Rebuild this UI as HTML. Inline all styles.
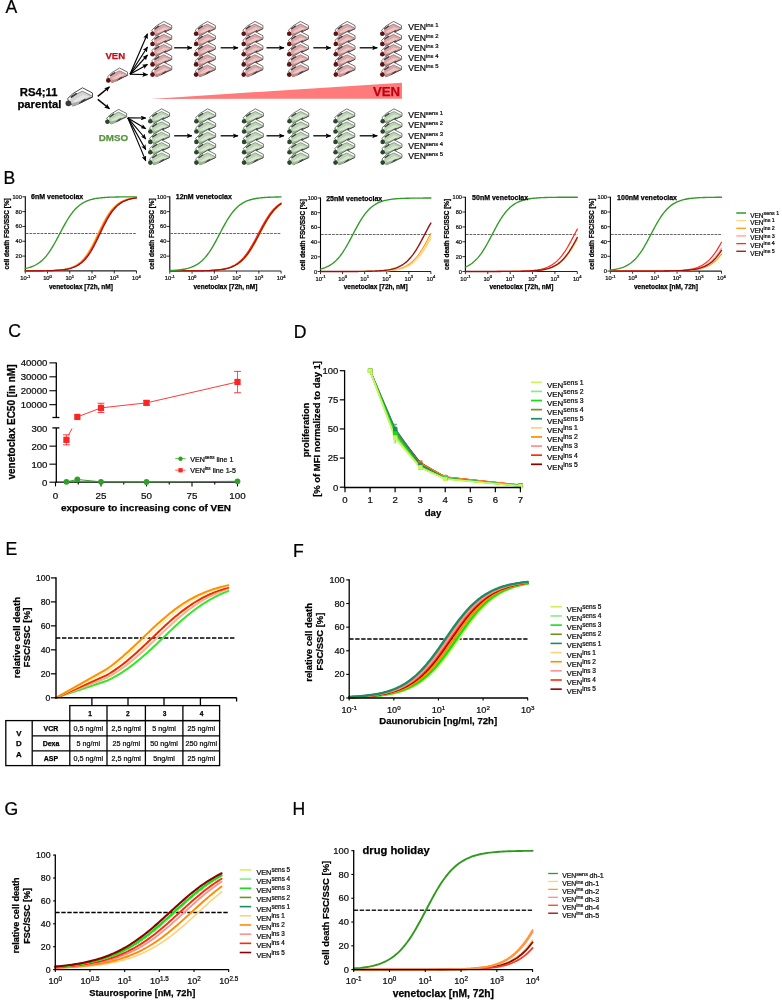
<!DOCTYPE html>
<html><head><meta charset="utf-8"><title>figure</title>
<style>
html,body{margin:0;padding:0;background:#fff;}
body{width:782px;height:1000px;overflow:hidden;}
svg{display:block;font-family:"Liberation Sans", sans-serif;will-change:transform;}
text{stroke:#000;stroke-width:0.22px;}
text[font-weight="bold"]{stroke-width:0.25px;}
</style></head><body>
<svg width="782" height="1000" viewBox="0 0 782 1000">
<rect width="782" height="1000" fill="#fff"/>
<defs>
<g id="fr">
<polygon points="-0.8,-3.6 3.8,-7.9 11.3,-12.4 19.2,-8.3 19.3,-5.1 13,-2.6 8,0.5 3.5,2.2" fill="#fff" stroke="#4a3e3e" stroke-width="0.75" stroke-linejoin="round"/>
<polygon points="1.2,-3.2 3.2,-5.9 11.3,-9.7 18.6,-6.0 18.7,-5.3 13,-2.6 8,0.5 3.5,2.2" fill="#dca6a6"/>
<polygon points="4,-2.2 11.5,-6.6 16.5,-5.6 10,-2.2 5,-0.6" fill="#ecc6c6"/>
<polygon points="2.2,0.3 8.5,-1.5 13,-3.6 18.7,-5.3 13,-2.6 8,0.5 3.5,2.2" fill="#c08888"/>
<polyline points="3.2,-5.9 11.3,-9.7 18.6,-6.0" fill="none" stroke="#4a3e3e" stroke-width="0.45"/>
<line x1="8.5" y1="0.2" x2="19.2" y2="-5.1" stroke="#4a3e3e" stroke-width="0.9"/>
<line x1="2.4" y1="-5.0" x2="6.2" y2="-7.6" stroke="#4a3e3e" stroke-width="1.4" stroke-linecap="round"/>
<line x1="10.6" y1="-1.2" x2="13.2" y2="-2.9" stroke="#4a3e3e" stroke-width="1.3" stroke-linecap="round"/>
<circle cx="0" cy="0" r="2.3" fill="#5a1212"/>
</g>
<g id="fg">
<polygon points="-0.8,-3.6 3.8,-7.9 11.3,-12.4 19.2,-8.3 19.3,-5.1 13,-2.6 8,0.5 3.5,2.2" fill="#fff" stroke="#3e4a3e" stroke-width="0.75" stroke-linejoin="round"/>
<polygon points="1.2,-3.2 3.2,-5.9 11.3,-9.7 18.6,-6.0 18.7,-5.3 13,-2.6 8,0.5 3.5,2.2" fill="#bcd4b4"/>
<polygon points="4,-2.2 11.5,-6.6 16.5,-5.6 10,-2.2 5,-0.6" fill="#d6e6d0"/>
<polygon points="2.2,0.3 8.5,-1.5 13,-3.6 18.7,-5.3 13,-2.6 8,0.5 3.5,2.2" fill="#98b390"/>
<polyline points="3.2,-5.9 11.3,-9.7 18.6,-6.0" fill="none" stroke="#3e4a3e" stroke-width="0.45"/>
<line x1="8.5" y1="0.2" x2="19.2" y2="-5.1" stroke="#3e4a3e" stroke-width="0.9"/>
<line x1="2.4" y1="-5.0" x2="6.2" y2="-7.6" stroke="#3e4a3e" stroke-width="1.4" stroke-linecap="round"/>
<line x1="10.6" y1="-1.2" x2="13.2" y2="-2.9" stroke="#3e4a3e" stroke-width="1.3" stroke-linecap="round"/>
<circle cx="0" cy="0" r="2.3" fill="#2b472b"/>
</g>
<g id="fw">
<polygon points="-0.8,-3.6 3.8,-7.9 11.3,-12.4 19.2,-8.3 19.3,-5.1 13,-2.6 8,0.5 3.5,2.2" fill="#fff" stroke="#3a3a3a" stroke-width="0.75" stroke-linejoin="round"/>
<polygon points="1.2,-3.2 3.2,-5.9 11.3,-9.7 18.6,-6.0 18.7,-5.3 13,-2.6 8,0.5 3.5,2.2" fill="#d2d2d2"/>
<polygon points="4,-2.2 11.5,-6.6 16.5,-5.6 10,-2.2 5,-0.6" fill="#e6e6e6"/>
<polygon points="2.2,0.3 8.5,-1.5 13,-3.6 18.7,-5.3 13,-2.6 8,0.5 3.5,2.2" fill="#aaaaaa"/>
<polyline points="3.2,-5.9 11.3,-9.7 18.6,-6.0" fill="none" stroke="#3a3a3a" stroke-width="0.45"/>
<line x1="8.5" y1="0.2" x2="19.2" y2="-5.1" stroke="#3a3a3a" stroke-width="0.9"/>
<line x1="2.4" y1="-5.0" x2="6.2" y2="-7.6" stroke="#3a3a3a" stroke-width="1.4" stroke-linecap="round"/>
<line x1="10.6" y1="-1.2" x2="13.2" y2="-2.9" stroke="#3a3a3a" stroke-width="1.3" stroke-linecap="round"/>
<circle cx="0" cy="0" r="2.3" fill="#3a3a3a"/>
</g>
<marker id="ah" viewBox="0 0 10 10" refX="9" refY="5" markerWidth="5.6" markerHeight="4.8" orient="auto" markerUnits="userSpaceOnUse" preserveAspectRatio="none"><path d="M0,0 L10,5 L0,10 L2,5 z" fill="#000"/></marker>
</defs>
<text x="5.6" y="12.5" font-size="17.6" text-anchor="start" fill="#000">A</text>
<text x="3.6" y="183.8" font-size="17.6" text-anchor="start" fill="#000">B</text>
<text x="8.3" y="337.3" font-size="17.6" text-anchor="start" fill="#000">C</text>
<text x="293.8" y="337.5" font-size="17.6" text-anchor="start" fill="#000">D</text>
<text x="5.5" y="554.6" font-size="17.6" text-anchor="start" fill="#000">E</text>
<text x="293" y="556.9" font-size="17.6" text-anchor="start" fill="#000">F</text>
<text x="4.5" y="814.6" font-size="17.6" text-anchor="start" fill="#000">G</text>
<text x="292.4" y="814.5" font-size="17.6" text-anchor="start" fill="#000">H</text>
<use href="#fw" transform="translate(68.4 103.3) scale(1.25)"/>
<text x="38.7" y="95.5" font-size="11.3" font-weight="bold" text-anchor="middle" fill="#000">RS4;11</text>
<text x="39.4" y="108.3" font-size="11.3" font-weight="bold" text-anchor="middle" fill="#000">parental</text>
<line x1="97.8" y1="96.4" x2="109.5" y2="86.8" stroke="#000" stroke-width="1.45" marker-end="url(#ah)"/>
<line x1="97.8" y1="99.4" x2="109.5" y2="108.8" stroke="#000" stroke-width="1.45" marker-end="url(#ah)"/>
<text x="115.3" y="59.3" font-size="9.6" font-weight="bold" text-anchor="middle" fill="#c4101c" style="stroke:#c4101c">VEN</text>
<use href="#fr" transform="translate(108.3 80.4)"/>
<text x="113.5" y="141" font-size="9.8" font-weight="bold" text-anchor="middle" fill="#5a9440" style="stroke:#5a9440">DMSO</text>
<use href="#fg" transform="translate(107.4 121.8)"/>
<line x1="130" y1="74.3" x2="147.5" y2="33.8" stroke="#000" stroke-width="1.15" marker-end="url(#ah)"/>
<line x1="130" y1="74.3" x2="147.5" y2="47" stroke="#000" stroke-width="1.15" marker-end="url(#ah)"/>
<line x1="130" y1="74.3" x2="147.5" y2="55" stroke="#000" stroke-width="1.15" marker-end="url(#ah)"/>
<line x1="130" y1="74.3" x2="147.5" y2="64.4" stroke="#000" stroke-width="1.15" marker-end="url(#ah)"/>
<line x1="130" y1="74.3" x2="147.5" y2="74.6" stroke="#000" stroke-width="1.15" marker-end="url(#ah)"/>
<line x1="127.8" y1="117.9" x2="145.8" y2="118" stroke="#000" stroke-width="1.15" marker-end="url(#ah)"/>
<line x1="127.8" y1="117.9" x2="145.8" y2="128.8" stroke="#000" stroke-width="1.15" marker-end="url(#ah)"/>
<line x1="127.8" y1="117.9" x2="145.8" y2="139" stroke="#000" stroke-width="1.15" marker-end="url(#ah)"/>
<line x1="127.8" y1="117.9" x2="145.8" y2="149.8" stroke="#000" stroke-width="1.15" marker-end="url(#ah)"/>
<line x1="127.8" y1="117.9" x2="145.8" y2="160.9" stroke="#000" stroke-width="1.15" marker-end="url(#ah)"/>
<use href="#fr" transform="translate(152.5 33.8)"/>
<use href="#fr" transform="translate(152.5 44)"/>
<use href="#fr" transform="translate(152.5 54.2)"/>
<use href="#fr" transform="translate(152.5 64.4)"/>
<use href="#fr" transform="translate(152.5 74.6)"/>
<use href="#fr" transform="translate(196.1 33.8)"/>
<use href="#fr" transform="translate(196.1 44)"/>
<use href="#fr" transform="translate(196.1 54.2)"/>
<use href="#fr" transform="translate(196.1 64.4)"/>
<use href="#fr" transform="translate(196.1 74.6)"/>
<use href="#fr" transform="translate(243.7 33.8)"/>
<use href="#fr" transform="translate(243.7 44)"/>
<use href="#fr" transform="translate(243.7 54.2)"/>
<use href="#fr" transform="translate(243.7 64.4)"/>
<use href="#fr" transform="translate(243.7 74.6)"/>
<use href="#fr" transform="translate(289.2 33.8)"/>
<use href="#fr" transform="translate(289.2 44)"/>
<use href="#fr" transform="translate(289.2 54.2)"/>
<use href="#fr" transform="translate(289.2 64.4)"/>
<use href="#fr" transform="translate(289.2 74.6)"/>
<use href="#fr" transform="translate(335.8 33.8)"/>
<use href="#fr" transform="translate(335.8 44)"/>
<use href="#fr" transform="translate(335.8 54.2)"/>
<use href="#fr" transform="translate(335.8 64.4)"/>
<use href="#fr" transform="translate(335.8 74.6)"/>
<use href="#fr" transform="translate(382.3 33.8)"/>
<use href="#fr" transform="translate(382.3 44)"/>
<use href="#fr" transform="translate(382.3 54.2)"/>
<use href="#fr" transform="translate(382.3 64.4)"/>
<use href="#fr" transform="translate(382.3 74.6)"/>
<use href="#fg" transform="translate(150.3 121.2)"/>
<use href="#fg" transform="translate(150.3 131.55)"/>
<use href="#fg" transform="translate(150.3 141.9)"/>
<use href="#fg" transform="translate(150.3 152.25)"/>
<use href="#fg" transform="translate(150.3 162.6)"/>
<use href="#fg" transform="translate(196.4 121.2)"/>
<use href="#fg" transform="translate(196.4 131.55)"/>
<use href="#fg" transform="translate(196.4 141.9)"/>
<use href="#fg" transform="translate(196.4 152.25)"/>
<use href="#fg" transform="translate(196.4 162.6)"/>
<use href="#fg" transform="translate(244.1 121.2)"/>
<use href="#fg" transform="translate(244.1 131.55)"/>
<use href="#fg" transform="translate(244.1 141.9)"/>
<use href="#fg" transform="translate(244.1 152.25)"/>
<use href="#fg" transform="translate(244.1 162.6)"/>
<use href="#fg" transform="translate(289.5 121.2)"/>
<use href="#fg" transform="translate(289.5 131.55)"/>
<use href="#fg" transform="translate(289.5 141.9)"/>
<use href="#fg" transform="translate(289.5 152.25)"/>
<use href="#fg" transform="translate(289.5 162.6)"/>
<use href="#fg" transform="translate(335.5 121.2)"/>
<use href="#fg" transform="translate(335.5 131.55)"/>
<use href="#fg" transform="translate(335.5 141.9)"/>
<use href="#fg" transform="translate(335.5 152.25)"/>
<use href="#fg" transform="translate(335.5 162.6)"/>
<use href="#fg" transform="translate(382.7 121.2)"/>
<use href="#fg" transform="translate(382.7 131.55)"/>
<use href="#fg" transform="translate(382.7 141.9)"/>
<use href="#fg" transform="translate(382.7 152.25)"/>
<use href="#fg" transform="translate(382.7 162.6)"/>
<line x1="174.2" y1="47.8" x2="191.9" y2="47.8" stroke="#000" stroke-width="1.3" marker-end="url(#ah)"/>
<line x1="174.2" y1="135.8" x2="191.9" y2="135.8" stroke="#000" stroke-width="1.3" marker-end="url(#ah)"/>
<line x1="220.7" y1="47.8" x2="238" y2="47.8" stroke="#000" stroke-width="1.3" marker-end="url(#ah)"/>
<line x1="220.7" y1="135.8" x2="238" y2="135.8" stroke="#000" stroke-width="1.3" marker-end="url(#ah)"/>
<line x1="266.5" y1="47.8" x2="284" y2="47.8" stroke="#000" stroke-width="1.3" marker-end="url(#ah)"/>
<line x1="266.5" y1="135.8" x2="284" y2="135.8" stroke="#000" stroke-width="1.3" marker-end="url(#ah)"/>
<line x1="313.3" y1="47.8" x2="330.7" y2="47.8" stroke="#000" stroke-width="1.3" marker-end="url(#ah)"/>
<line x1="313.3" y1="135.8" x2="330.7" y2="135.8" stroke="#000" stroke-width="1.3" marker-end="url(#ah)"/>
<line x1="359.7" y1="47.8" x2="377.3" y2="47.8" stroke="#000" stroke-width="1.3" marker-end="url(#ah)"/>
<line x1="359.7" y1="135.8" x2="377.3" y2="135.8" stroke="#000" stroke-width="1.3" marker-end="url(#ah)"/>
<polygon points="151,98.9 402,82.7 402,98.7" fill="#ff7b7b"/>
<text x="373" y="95.9" font-size="13.2" font-weight="bold" text-anchor="start" fill="#c00012" style="stroke:#c00012">VEN</text>
<text x="408.3" y="29.5" font-size="8.6" fill="#111">VEN<tspan font-size="5.9" dy="-2.9">ins 1</tspan></text>
<text x="408.3" y="40.7" font-size="8.6" fill="#111">VEN<tspan font-size="5.9" dy="-2.9">ins 2</tspan></text>
<text x="408.3" y="51" font-size="8.6" fill="#111">VEN<tspan font-size="5.9" dy="-2.9">ins 3</tspan></text>
<text x="408.3" y="61.1" font-size="8.6" fill="#111">VEN<tspan font-size="5.9" dy="-2.9">ins 4</tspan></text>
<text x="408.3" y="71.1" font-size="8.6" fill="#111">VEN<tspan font-size="5.9" dy="-2.9">ins 5</tspan></text>
<text x="408.3" y="117.5" font-size="8.5" fill="#111">VEN<tspan font-size="5.9" dy="-2.9">sens 1</tspan></text>
<text x="408.3" y="127.8" font-size="8.5" fill="#111">VEN<tspan font-size="5.9" dy="-2.9">sens 2</tspan></text>
<text x="408.3" y="138.5" font-size="8.5" fill="#111">VEN<tspan font-size="5.9" dy="-2.9">sens 3</tspan></text>
<text x="408.3" y="148.6" font-size="8.5" fill="#111">VEN<tspan font-size="5.9" dy="-2.9">sens 4</tspan></text>
<text x="408.3" y="159.3" font-size="8.5" fill="#111">VEN<tspan font-size="5.9" dy="-2.9">sens 5</tspan></text>
<line x1="25.3" y1="196.3" x2="25.3" y2="271.4" stroke="#000" stroke-width="1.1"/>
<line x1="24.8" y1="270.9" x2="136.5" y2="270.9" stroke="#222" stroke-width="1.2"/>
<line x1="22.3" y1="256.08" x2="25.3" y2="256.08" stroke="#000" stroke-width="0.8"/>
<text x="21.8" y="258.08" font-size="5.6" text-anchor="end" fill="#222">20</text>
<line x1="22.3" y1="241.26" x2="25.3" y2="241.26" stroke="#000" stroke-width="0.8"/>
<text x="21.8" y="243.26" font-size="5.6" text-anchor="end" fill="#222">40</text>
<line x1="22.3" y1="226.44" x2="25.3" y2="226.44" stroke="#000" stroke-width="0.8"/>
<text x="21.8" y="228.44" font-size="5.6" text-anchor="end" fill="#222">60</text>
<line x1="22.3" y1="211.62" x2="25.3" y2="211.62" stroke="#000" stroke-width="0.8"/>
<text x="21.8" y="213.62" font-size="5.6" text-anchor="end" fill="#222">80</text>
<line x1="22.3" y1="196.8" x2="25.3" y2="196.8" stroke="#000" stroke-width="0.8"/>
<text x="21.8" y="198.8" font-size="5.6" text-anchor="end" fill="#222">100</text>
<line x1="25.3" y1="270.9" x2="25.3" y2="273.5" stroke="#000" stroke-width="0.8"/>
<text x="25.3" y="280" font-size="5.8" fill="#222" text-anchor="middle">10<tspan font-size="4.2" dy="-2.3">-1</tspan></text>
<line x1="47.54" y1="270.9" x2="47.54" y2="273.5" stroke="#000" stroke-width="0.8"/>
<text x="47.54" y="280" font-size="5.8" fill="#222" text-anchor="middle">10<tspan font-size="4.2" dy="-2.3">0</tspan></text>
<line x1="69.78" y1="270.9" x2="69.78" y2="273.5" stroke="#000" stroke-width="0.8"/>
<text x="69.78" y="280" font-size="5.8" fill="#222" text-anchor="middle">10<tspan font-size="4.2" dy="-2.3">1</tspan></text>
<line x1="92.02" y1="270.9" x2="92.02" y2="273.5" stroke="#000" stroke-width="0.8"/>
<text x="92.02" y="280" font-size="5.8" fill="#222" text-anchor="middle">10<tspan font-size="4.2" dy="-2.3">2</tspan></text>
<line x1="114.26" y1="270.9" x2="114.26" y2="273.5" stroke="#000" stroke-width="0.8"/>
<text x="114.26" y="280" font-size="5.8" fill="#222" text-anchor="middle">10<tspan font-size="4.2" dy="-2.3">3</tspan></text>
<line x1="136.5" y1="270.9" x2="136.5" y2="273.5" stroke="#000" stroke-width="0.8"/>
<text x="136.5" y="280" font-size="5.8" fill="#222" text-anchor="middle">10<tspan font-size="4.2" dy="-2.3">4</tspan></text>
<text x="80.9" y="288.8" font-size="6.5" font-weight="bold" text-anchor="middle" fill="#000">venetoclax [72h, nM]</text>
<text x="9.2" y="233.85" font-size="6.45" font-weight="bold" text-anchor="middle" fill="#000" transform="rotate(-90 9.2 233.85)">cell death FSC/SSC [%]</text>
<line x1="25.8" y1="233.5" x2="136.5" y2="233.5" stroke="#666" stroke-width="1.2" stroke-dasharray="2.7,1.0"/>
<polyline points="25.3,270.88 26.69,270.88 28.08,270.87 29.47,270.87 30.86,270.86 32.25,270.86 33.64,270.85 35.03,270.84 36.42,270.83 37.81,270.82 39.2,270.8 40.59,270.79 41.98,270.77 43.37,270.75 44.76,270.72 46.15,270.69 47.54,270.65 48.93,270.61 50.32,270.56 51.71,270.5 53.1,270.44 54.49,270.36 55.88,270.26 57.27,270.16 58.66,270.03 60.05,269.88 61.44,269.71 62.83,269.51 64.22,269.28 65.61,269.01 67,268.69 68.39,268.33 69.78,267.9 71.17,267.41 72.56,266.85 73.95,266.19 75.34,265.45 76.73,264.59 78.12,263.62 79.51,262.51 80.9,261.26 82.29,259.85 83.68,258.28 85.07,256.53 86.46,254.61 87.85,252.51 89.24,250.23 90.63,247.79 92.02,245.2 93.41,242.49 94.8,239.67 96.19,236.78 97.58,233.85 98.97,230.92 100.36,228.03 101.75,225.21 103.14,222.5 104.53,219.91 105.92,217.47 107.31,215.19 108.7,213.09 110.09,211.17 111.48,209.42 112.87,207.85 114.26,206.44 115.65,205.19 117.04,204.08 118.43,203.11 119.82,202.25 121.21,201.51 122.6,200.85 123.99,200.29 125.38,199.8 126.77,199.37 128.16,199.01 129.55,198.69 130.94,198.42 132.33,198.19 133.72,197.99 135.11,197.82 136.5,197.67" fill="none" stroke="#ffcf6a" stroke-width="1" stroke-linejoin="round" stroke-linecap="round"/>
<polyline points="25.3,270.88 26.69,270.88 28.08,270.87 29.47,270.87 30.86,270.87 32.25,270.86 33.64,270.85 35.03,270.84 36.42,270.84 37.81,270.82 39.2,270.81 40.59,270.8 41.98,270.78 43.37,270.76 44.76,270.73 46.15,270.7 47.54,270.67 48.93,270.63 50.32,270.59 51.71,270.53 53.1,270.47 54.49,270.4 55.88,270.31 57.27,270.21 58.66,270.09 60.05,269.96 61.44,269.8 62.83,269.61 64.22,269.39 65.61,269.14 67,268.85 68.39,268.51 69.78,268.11 71.17,267.66 72.56,267.13 73.95,266.52 75.34,265.82 76.73,265.02 78.12,264.1 79.51,263.06 80.9,261.88 82.29,260.54 83.68,259.05 85.07,257.39 86.46,255.55 87.85,253.54 89.24,251.35 90.63,248.98 92.02,246.46 93.41,243.8 94.8,241.03 96.19,238.17 97.58,235.26 98.97,232.33 100.36,229.41 101.75,226.56 103.14,223.79 104.53,221.13 105.92,218.62 107.31,216.26 108.7,214.08 110.09,212.07 111.48,210.24 112.87,208.59 114.26,207.1 115.65,205.77 117.04,204.6 118.43,203.56 119.82,202.65 121.21,201.85 122.6,201.16 123.99,200.55 125.38,200.02 126.77,199.57 128.16,199.18 129.55,198.84 130.94,198.55 132.33,198.3 133.72,198.08 135.11,197.9 136.5,197.74" fill="none" stroke="#ff9a10" stroke-width="1.2" stroke-linejoin="round" stroke-linecap="round"/>
<polyline points="25.3,270.88 26.69,270.88 28.08,270.88 29.47,270.87 30.86,270.87 32.25,270.86 33.64,270.86 35.03,270.85 36.42,270.84 37.81,270.83 39.2,270.82 40.59,270.81 41.98,270.79 43.37,270.77 44.76,270.75 46.15,270.72 47.54,270.69 48.93,270.66 50.32,270.62 51.71,270.57 53.1,270.51 54.49,270.44 55.88,270.37 57.27,270.28 58.66,270.17 60.05,270.05 61.44,269.9 62.83,269.73 64.22,269.54 65.61,269.31 67,269.04 68.39,268.73 69.78,268.37 71.17,267.96 72.56,267.47 73.95,266.92 75.34,266.28 76.73,265.54 78.12,264.7 79.51,263.74 80.9,262.65 82.29,261.41 83.68,260.03 85.07,258.47 86.46,256.75 87.85,254.85 89.24,252.77 90.63,250.51 92.02,248.09 93.41,245.52 94.8,242.82 96.19,240.01 97.58,237.13 98.97,234.2 100.36,231.27 101.75,228.38 103.14,225.55 104.53,222.82 105.92,220.21 107.31,217.75 108.7,215.46 110.09,213.34 111.48,211.39 112.87,209.62 114.26,208.03 115.65,206.6 117.04,205.33 118.43,204.21 119.82,203.22 121.21,202.35 122.6,201.59 123.99,200.93 125.38,200.35 126.77,199.85 128.16,199.42 129.55,199.05 130.94,198.73 132.33,198.45 133.72,198.22 135.11,198.01 136.5,197.84" fill="none" stroke="#ff2a1a" stroke-width="1.2" stroke-linejoin="round" stroke-linecap="round"/>
<polyline points="25.3,270.89 26.69,270.88 28.08,270.88 29.47,270.88 30.86,270.87 32.25,270.87 33.64,270.86 35.03,270.85 36.42,270.85 37.81,270.84 39.2,270.83 40.59,270.81 41.98,270.8 43.37,270.78 44.76,270.76 46.15,270.74 47.54,270.71 48.93,270.68 50.32,270.64 51.71,270.6 53.1,270.55 54.49,270.49 55.88,270.42 57.27,270.34 58.66,270.24 60.05,270.13 61.44,270 62.83,269.84 64.22,269.67 65.61,269.46 67,269.22 68.39,268.93 69.78,268.61 71.17,268.23 72.56,267.79 73.95,267.28 75.34,266.7 76.73,266.02 78.12,265.25 79.51,264.37 80.9,263.36 82.29,262.22 83.68,260.93 85.07,259.49 86.46,257.87 87.85,256.09 89.24,254.12 90.63,251.98 92.02,249.66 93.41,247.18 94.8,244.56 96.19,241.82 97.58,238.98 98.97,236.08 100.36,233.15 101.75,230.23 103.14,227.35 104.53,224.55 105.92,221.86 107.31,219.31 108.7,216.91 110.09,214.67 111.48,212.61 112.87,210.73 114.26,209.03 115.65,207.5 117.04,206.13 118.43,204.91 119.82,203.84 121.21,202.89 122.6,202.06 123.99,201.34 125.38,200.71 126.77,200.16 128.16,199.69 129.55,199.28 130.94,198.93 132.33,198.62 133.72,198.36 135.11,198.14 136.5,197.95" fill="none" stroke="#990f0f" stroke-width="1.2" stroke-linejoin="round" stroke-linecap="round"/>
<polyline points="25.3,268.51 26.69,268.21 28.08,267.86 29.47,267.46 30.86,267.01 32.25,266.5 33.64,265.91 35.03,265.25 36.42,264.5 37.81,263.65 39.2,262.7 40.59,261.63 41.98,260.44 43.37,259.12 44.76,257.67 46.15,256.07 47.54,254.32 48.93,252.43 50.32,250.39 51.71,248.21 53.1,245.91 54.49,243.5 55.88,240.99 57.27,238.41 58.66,235.78 60.05,233.13 61.44,230.49 62.83,227.88 64.22,225.32 65.61,222.85 67,220.48 68.39,218.23 69.78,216.11 71.17,214.13 72.56,212.29 73.95,210.61 75.34,209.06 76.73,207.66 78.12,206.4 79.51,205.26 80.9,204.24 82.29,203.33 83.68,202.52 85.07,201.81 86.46,201.18 87.85,200.62 89.24,200.13 90.63,199.7 92.02,199.33 93.41,199 94.8,198.71 96.19,198.46 97.58,198.24 98.97,198.05 100.36,197.89 101.75,197.74 103.14,197.62 104.53,197.51 105.92,197.42 107.31,197.33 108.7,197.26 110.09,197.2 111.48,197.15 112.87,197.1 114.26,197.06 115.65,197.03 117.04,197 118.43,196.97 119.82,196.95 121.21,196.93 122.6,196.91 123.99,196.9 125.38,196.88 126.77,196.87 128.16,196.86 129.55,196.85 130.94,196.85 132.33,196.84 133.72,196.83 135.11,196.83 136.5,196.83" fill="none" stroke="#2f9a25" stroke-width="1.35" stroke-linejoin="round" stroke-linecap="round"/>
<text x="31.1" y="199.3" font-size="7" font-weight="bold" text-anchor="start" fill="#000">6nM venetoclax</text>
<line x1="169.8" y1="196.3" x2="169.8" y2="271.5" stroke="#000" stroke-width="1.1"/>
<line x1="169.3" y1="271" x2="281.1" y2="271" stroke="#222" stroke-width="1.2"/>
<line x1="166.8" y1="256.16" x2="169.8" y2="256.16" stroke="#000" stroke-width="0.8"/>
<text x="166.3" y="258.16" font-size="5.6" text-anchor="end" fill="#222">20</text>
<line x1="166.8" y1="241.32" x2="169.8" y2="241.32" stroke="#000" stroke-width="0.8"/>
<text x="166.3" y="243.32" font-size="5.6" text-anchor="end" fill="#222">40</text>
<line x1="166.8" y1="226.48" x2="169.8" y2="226.48" stroke="#000" stroke-width="0.8"/>
<text x="166.3" y="228.48" font-size="5.6" text-anchor="end" fill="#222">60</text>
<line x1="166.8" y1="211.64" x2="169.8" y2="211.64" stroke="#000" stroke-width="0.8"/>
<text x="166.3" y="213.64" font-size="5.6" text-anchor="end" fill="#222">80</text>
<line x1="166.8" y1="196.8" x2="169.8" y2="196.8" stroke="#000" stroke-width="0.8"/>
<text x="166.3" y="198.8" font-size="5.6" text-anchor="end" fill="#222">100</text>
<line x1="169.8" y1="271" x2="169.8" y2="273.6" stroke="#000" stroke-width="0.8"/>
<text x="169.8" y="280.1" font-size="5.8" fill="#222" text-anchor="middle">10<tspan font-size="4.2" dy="-2.3">-1</tspan></text>
<line x1="192.06" y1="271" x2="192.06" y2="273.6" stroke="#000" stroke-width="0.8"/>
<text x="192.06" y="280.1" font-size="5.8" fill="#222" text-anchor="middle">10<tspan font-size="4.2" dy="-2.3">0</tspan></text>
<line x1="214.32" y1="271" x2="214.32" y2="273.6" stroke="#000" stroke-width="0.8"/>
<text x="214.32" y="280.1" font-size="5.8" fill="#222" text-anchor="middle">10<tspan font-size="4.2" dy="-2.3">1</tspan></text>
<line x1="236.58" y1="271" x2="236.58" y2="273.6" stroke="#000" stroke-width="0.8"/>
<text x="236.58" y="280.1" font-size="5.8" fill="#222" text-anchor="middle">10<tspan font-size="4.2" dy="-2.3">2</tspan></text>
<line x1="258.84" y1="271" x2="258.84" y2="273.6" stroke="#000" stroke-width="0.8"/>
<text x="258.84" y="280.1" font-size="5.8" fill="#222" text-anchor="middle">10<tspan font-size="4.2" dy="-2.3">3</tspan></text>
<line x1="281.1" y1="271" x2="281.1" y2="273.6" stroke="#000" stroke-width="0.8"/>
<text x="281.1" y="280.1" font-size="5.8" fill="#222" text-anchor="middle">10<tspan font-size="4.2" dy="-2.3">4</tspan></text>
<text x="225.45" y="288.9" font-size="6.5" font-weight="bold" text-anchor="middle" fill="#000">venetoclax [72h, nM]</text>
<text x="154.3" y="233.9" font-size="6.45" font-weight="bold" text-anchor="middle" fill="#000" transform="rotate(-90 154.3 233.9)">cell death FSC/SSC [%]</text>
<line x1="170.3" y1="233.5" x2="281.1" y2="233.5" stroke="#666" stroke-width="1.2" stroke-dasharray="2.7,1.0"/>
<polyline points="169.8,270.99 171.19,270.99 172.58,270.99 173.97,270.99 175.37,270.99 176.76,270.99 178.15,270.98 179.54,270.98 180.93,270.98 182.32,270.98 183.71,270.97 185.1,270.97 186.5,270.96 187.89,270.96 189.28,270.95 190.67,270.94 192.06,270.93 193.45,270.92 194.84,270.91 196.23,270.9 197.62,270.88 199.02,270.86 200.41,270.84 201.8,270.82 203.19,270.79 204.58,270.76 205.97,270.72 207.36,270.68 208.75,270.63 210.15,270.57 211.54,270.51 212.93,270.43 214.32,270.34 215.71,270.24 217.1,270.13 218.49,270 219.89,269.84 221.28,269.67 222.67,269.46 224.06,269.23 225.45,268.97 226.84,268.66 228.23,268.31 229.62,267.91 231.02,267.46 232.41,266.94 233.8,266.35 235.19,265.68 236.58,264.93 237.97,264.08 239.36,263.12 240.75,262.05 242.15,260.85 243.54,259.52 244.93,258.05 246.32,256.44 247.71,254.69 249.1,252.78 250.49,250.73 251.88,248.54 253.28,246.23 254.67,243.8 256.06,241.28 257.45,238.68 258.84,236.03 260.23,233.37 261.62,230.7 263.01,228.08 264.41,225.51 265.8,223.02 267.19,220.63 268.58,218.37 269.97,216.23 271.36,214.24 272.75,212.39 274.14,210.69 275.54,209.14 276.93,207.73 278.32,206.46 279.71,205.31 281.1,204.29" fill="none" stroke="#ffcf6a" stroke-width="1" stroke-linejoin="round" stroke-linecap="round"/>
<polyline points="169.8,270.99 171.19,270.99 172.58,270.99 173.97,270.99 175.37,270.99 176.76,270.99 178.15,270.98 179.54,270.98 180.93,270.98 182.32,270.98 183.71,270.97 185.1,270.97 186.5,270.96 187.89,270.96 189.28,270.95 190.67,270.94 192.06,270.93 193.45,270.92 194.84,270.91 196.23,270.9 197.62,270.88 199.02,270.86 200.41,270.84 201.8,270.82 203.19,270.79 204.58,270.75 205.97,270.72 207.36,270.67 208.75,270.62 210.15,270.56 211.54,270.5 212.93,270.42 214.32,270.33 215.71,270.23 217.1,270.11 218.49,269.97 219.89,269.82 221.28,269.64 222.67,269.43 224.06,269.19 225.45,268.92 226.84,268.61 228.23,268.25 229.62,267.84 231.02,267.38 232.41,266.85 233.8,266.25 235.19,265.57 236.58,264.8 237.97,263.93 239.36,262.95 240.75,261.86 242.15,260.65 243.54,259.3 244.93,257.81 246.32,256.17 247.71,254.39 249.1,252.46 250.49,250.39 251.88,248.18 253.28,245.85 254.67,243.4 256.06,240.86 257.45,238.26 258.84,235.61 260.23,232.94 261.62,230.28 263.01,227.66 264.41,225.1 265.8,222.63 267.19,220.26 268.58,218.02 269.97,215.9 271.36,213.93 272.75,212.11 274.14,210.44 275.54,208.91 276.93,207.52 278.32,206.27 279.71,205.14 281.1,204.13" fill="none" stroke="#ff9a10" stroke-width="1.2" stroke-linejoin="round" stroke-linecap="round"/>
<polyline points="169.8,270.99 171.19,270.99 172.58,270.99 173.97,270.99 175.37,270.99 176.76,270.98 178.15,270.98 179.54,270.98 180.93,270.97 182.32,270.97 183.71,270.97 185.1,270.96 186.5,270.96 187.89,270.95 189.28,270.94 190.67,270.93 192.06,270.92 193.45,270.91 194.84,270.89 196.23,270.88 197.62,270.86 199.02,270.84 200.41,270.81 201.8,270.78 203.19,270.75 204.58,270.71 205.97,270.67 207.36,270.61 208.75,270.56 210.15,270.49 211.54,270.41 212.93,270.32 214.32,270.21 215.71,270.09 217.1,269.95 218.49,269.8 219.89,269.61 221.28,269.4 222.67,269.16 224.06,268.88 225.45,268.57 226.84,268.21 228.23,267.79 229.62,267.32 231.02,266.78 232.41,266.17 233.8,265.48 235.19,264.7 236.58,263.82 237.97,262.83 239.36,261.72 240.75,260.49 242.15,259.12 243.54,257.62 244.93,255.97 246.32,254.17 247.71,252.22 249.1,250.13 250.49,247.91 251.88,245.56 253.28,243.1 254.67,240.55 256.06,237.94 257.45,235.29 258.84,232.62 260.23,229.96 261.62,227.35 263.01,224.8 264.41,222.34 265.8,219.98 267.19,217.75 268.58,215.66 269.97,213.71 271.36,211.9 272.75,210.25 274.14,208.73 275.54,207.36 276.93,206.12 278.32,205.01 279.71,204.02 281.1,203.13" fill="none" stroke="#ff2a1a" stroke-width="1.3" stroke-linejoin="round" stroke-linecap="round"/>
<polyline points="169.8,270.99 171.19,270.99 172.58,270.99 173.97,270.99 175.37,270.99 176.76,270.99 178.15,270.98 179.54,270.98 180.93,270.98 182.32,270.97 183.71,270.97 185.1,270.97 186.5,270.96 187.89,270.95 189.28,270.95 190.67,270.94 192.06,270.93 193.45,270.92 194.84,270.91 196.23,270.89 197.62,270.87 199.02,270.85 200.41,270.83 201.8,270.81 203.19,270.78 204.58,270.74 205.97,270.7 207.36,270.66 208.75,270.6 210.15,270.54 211.54,270.47 212.93,270.39 214.32,270.3 215.71,270.19 217.1,270.07 218.49,269.92 219.89,269.76 221.28,269.57 222.67,269.36 224.06,269.11 225.45,268.82 226.84,268.5 228.23,268.13 229.62,267.7 231.02,267.22 232.41,266.67 233.8,266.04 235.19,265.33 236.58,264.53 237.97,263.63 239.36,262.62 240.75,261.49 242.15,260.23 243.54,258.83 244.93,257.3 246.32,255.62 247.71,253.79 249.1,251.81 250.49,249.7 251.88,247.45 253.28,245.07 254.67,242.6 256.06,240.04 257.45,237.41 258.84,234.75 260.23,232.09 261.62,229.44 263.01,226.83 264.41,224.3 265.8,221.86 267.19,219.53 268.58,217.32 269.97,215.26 271.36,213.34 272.75,211.56 274.14,209.93 275.54,208.45 276.93,207.1 278.32,205.89 279.71,204.8 281.1,203.83" fill="none" stroke="#990f0f" stroke-width="1.2" stroke-linejoin="round" stroke-linecap="round"/>
<polyline points="169.8,270.58 171.19,270.51 172.58,270.43 173.97,270.35 175.37,270.25 176.76,270.13 178.15,270 179.54,269.85 180.93,269.67 182.32,269.47 183.71,269.24 185.1,268.98 186.5,268.67 187.89,268.33 189.28,267.93 190.67,267.48 192.06,266.96 193.45,266.38 194.84,265.71 196.23,264.96 197.62,264.11 199.02,263.16 200.41,262.09 201.8,260.9 203.19,259.58 204.58,258.12 205.97,256.51 207.36,254.76 208.75,252.86 210.15,250.82 211.54,248.63 212.93,246.32 214.32,243.9 215.71,241.38 217.1,238.78 218.49,236.14 219.89,233.47 221.28,230.81 222.67,228.18 224.06,225.61 225.45,223.11 226.84,220.73 228.23,218.45 229.62,216.31 231.02,214.32 232.41,212.46 233.8,210.76 235.19,209.2 236.58,207.79 237.97,206.51 239.36,205.35 240.75,204.32 242.15,203.41 243.54,202.59 244.93,201.87 246.32,201.23 247.71,200.67 249.1,200.17 250.49,199.74 251.88,199.36 253.28,199.02 254.67,198.73 256.06,198.48 257.45,198.26 258.84,198.07 260.23,197.9 261.62,197.75 263.01,197.63 264.41,197.52 265.8,197.42 267.19,197.34 268.58,197.27 269.97,197.21 271.36,197.15 272.75,197.1 274.14,197.06 275.54,197.03 276.93,197 278.32,196.97 279.71,196.95 281.1,196.93" fill="none" stroke="#2f9a25" stroke-width="1.35" stroke-linejoin="round" stroke-linecap="round"/>
<text x="175.8" y="199.3" font-size="7" font-weight="bold" text-anchor="start" fill="#000">12nM venetoclax</text>
<line x1="320.5" y1="197.5" x2="320.5" y2="272" stroke="#000" stroke-width="1.1"/>
<line x1="320" y1="271.5" x2="430.9" y2="271.5" stroke="#222" stroke-width="1.2"/>
<line x1="317.5" y1="271.5" x2="320.5" y2="271.5" stroke="#000" stroke-width="0.8"/>
<text x="317" y="273.5" font-size="5.6" text-anchor="end" fill="#222">0</text>
<line x1="317.5" y1="256.8" x2="320.5" y2="256.8" stroke="#000" stroke-width="0.8"/>
<text x="317" y="258.8" font-size="5.6" text-anchor="end" fill="#222">20</text>
<line x1="317.5" y1="242.1" x2="320.5" y2="242.1" stroke="#000" stroke-width="0.8"/>
<text x="317" y="244.1" font-size="5.6" text-anchor="end" fill="#222">40</text>
<line x1="317.5" y1="227.4" x2="320.5" y2="227.4" stroke="#000" stroke-width="0.8"/>
<text x="317" y="229.4" font-size="5.6" text-anchor="end" fill="#222">60</text>
<line x1="317.5" y1="212.7" x2="320.5" y2="212.7" stroke="#000" stroke-width="0.8"/>
<text x="317" y="214.7" font-size="5.6" text-anchor="end" fill="#222">80</text>
<line x1="317.5" y1="198" x2="320.5" y2="198" stroke="#000" stroke-width="0.8"/>
<text x="317" y="200" font-size="5.6" text-anchor="end" fill="#222">100</text>
<line x1="320.5" y1="271.5" x2="320.5" y2="274.1" stroke="#000" stroke-width="0.8"/>
<text x="320.5" y="280.6" font-size="5.8" fill="#222" text-anchor="middle">10<tspan font-size="4.2" dy="-2.3">-1</tspan></text>
<line x1="342.58" y1="271.5" x2="342.58" y2="274.1" stroke="#000" stroke-width="0.8"/>
<text x="342.58" y="280.6" font-size="5.8" fill="#222" text-anchor="middle">10<tspan font-size="4.2" dy="-2.3">0</tspan></text>
<line x1="364.66" y1="271.5" x2="364.66" y2="274.1" stroke="#000" stroke-width="0.8"/>
<text x="364.66" y="280.6" font-size="5.8" fill="#222" text-anchor="middle">10<tspan font-size="4.2" dy="-2.3">1</tspan></text>
<line x1="386.74" y1="271.5" x2="386.74" y2="274.1" stroke="#000" stroke-width="0.8"/>
<text x="386.74" y="280.6" font-size="5.8" fill="#222" text-anchor="middle">10<tspan font-size="4.2" dy="-2.3">2</tspan></text>
<line x1="408.82" y1="271.5" x2="408.82" y2="274.1" stroke="#000" stroke-width="0.8"/>
<text x="408.82" y="280.6" font-size="5.8" fill="#222" text-anchor="middle">10<tspan font-size="4.2" dy="-2.3">3</tspan></text>
<line x1="430.9" y1="271.5" x2="430.9" y2="274.1" stroke="#000" stroke-width="0.8"/>
<text x="430.9" y="280.6" font-size="5.8" fill="#222" text-anchor="middle">10<tspan font-size="4.2" dy="-2.3">4</tspan></text>
<text x="375.7" y="289.4" font-size="6.5" font-weight="bold" text-anchor="middle" fill="#000">venetoclax [72h, nM]</text>
<text x="304.6" y="234.75" font-size="6.45" font-weight="bold" text-anchor="middle" fill="#000" transform="rotate(-90 304.6 234.75)">cell death FSC/SSC [%]</text>
<line x1="321" y1="234.5" x2="430.9" y2="234.5" stroke="#666" stroke-width="1.2" stroke-dasharray="2.7,1.0"/>
<polyline points="320.5,271.5 321.88,271.5 323.26,271.5 324.64,271.5 326.02,271.5 327.4,271.5 328.78,271.5 330.16,271.5 331.54,271.5 332.92,271.5 334.3,271.5 335.68,271.5 337.06,271.5 338.44,271.5 339.82,271.5 341.2,271.49 342.58,271.49 343.96,271.49 345.34,271.49 346.72,271.49 348.1,271.49 349.48,271.49 350.86,271.49 352.24,271.48 353.62,271.48 355,271.48 356.38,271.47 357.76,271.47 359.14,271.47 360.52,271.46 361.9,271.45 363.28,271.45 364.66,271.44 366.04,271.43 367.42,271.42 368.8,271.41 370.18,271.39 371.56,271.38 372.94,271.36 374.32,271.34 375.7,271.31 377.08,271.28 378.46,271.25 379.84,271.21 381.22,271.16 382.6,271.11 383.98,271.05 385.36,270.98 386.74,270.9 388.12,270.81 389.5,270.71 390.88,270.59 392.26,270.45 393.64,270.29 395.02,270.1 396.4,269.89 397.78,269.65 399.16,269.37 400.54,269.05 401.92,268.68 403.3,268.27 404.68,267.79 406.06,267.25 407.44,266.64 408.82,265.94 410.2,265.16 411.58,264.27 412.96,263.28 414.34,262.16 415.72,260.93 417.1,259.56 418.48,258.05 419.86,256.39 421.24,254.59 422.62,252.65 424,250.56 425.38,248.34 426.76,246 428.14,243.55 429.52,241.02 430.9,238.43" fill="none" stroke="#ffcf6a" stroke-width="1" stroke-linejoin="round" stroke-linecap="round"/>
<polyline points="320.5,271.5 321.88,271.5 323.26,271.5 324.64,271.5 326.02,271.5 327.4,271.5 328.78,271.5 330.16,271.5 331.54,271.5 332.92,271.5 334.3,271.5 335.68,271.5 337.06,271.5 338.44,271.49 339.82,271.49 341.2,271.49 342.58,271.49 343.96,271.49 345.34,271.49 346.72,271.49 348.1,271.49 349.48,271.48 350.86,271.48 352.24,271.48 353.62,271.47 355,271.47 356.38,271.47 357.76,271.46 359.14,271.46 360.52,271.45 361.9,271.44 363.28,271.43 364.66,271.42 366.04,271.41 367.42,271.39 368.8,271.38 370.18,271.36 371.56,271.34 372.94,271.31 374.32,271.28 375.7,271.25 377.08,271.21 378.46,271.17 379.84,271.11 381.22,271.05 382.6,270.99 383.98,270.91 385.36,270.82 386.74,270.71 388.12,270.59 389.5,270.45 390.88,270.29 392.26,270.11 393.64,269.9 395.02,269.66 396.4,269.38 397.78,269.07 399.16,268.7 400.54,268.29 401.92,267.82 403.3,267.28 404.68,266.67 406.06,265.98 407.44,265.2 408.82,264.32 410.2,263.33 411.58,262.22 412.96,260.99 414.34,259.63 415.72,258.12 417.1,256.48 418.48,254.68 419.86,252.75 421.24,250.67 422.62,248.45 424,246.12 425.38,243.67 426.76,241.15 428.14,238.55 429.52,235.92 430.9,233.28" fill="none" stroke="#ff9a10" stroke-width="1.1" stroke-linejoin="round" stroke-linecap="round"/>
<polyline points="320.5,271.5 321.88,271.5 323.26,271.5 324.64,271.5 326.02,271.5 327.4,271.5 328.78,271.5 330.16,271.5 331.54,271.5 332.92,271.5 334.3,271.5 335.68,271.5 337.06,271.5 338.44,271.5 339.82,271.49 341.2,271.49 342.58,271.49 343.96,271.49 345.34,271.49 346.72,271.49 348.1,271.49 349.48,271.49 350.86,271.48 352.24,271.48 353.62,271.48 355,271.48 356.38,271.47 357.76,271.47 359.14,271.46 360.52,271.46 361.9,271.45 363.28,271.44 364.66,271.43 366.04,271.42 367.42,271.41 368.8,271.4 370.18,271.38 371.56,271.36 372.94,271.34 374.32,271.31 375.7,271.29 377.08,271.25 378.46,271.22 379.84,271.17 381.22,271.12 382.6,271.06 383.98,270.99 385.36,270.92 386.74,270.83 388.12,270.72 389.5,270.61 390.88,270.47 392.26,270.31 393.64,270.13 395.02,269.93 396.4,269.69 397.78,269.42 399.16,269.1 400.54,268.75 401.92,268.34 403.3,267.87 404.68,267.34 406.06,266.74 407.44,266.06 408.82,265.29 410.2,264.42 411.58,263.44 412.96,262.35 414.34,261.14 415.72,259.79 417.1,258.3 418.48,256.67 419.86,254.89 421.24,252.97 422.62,250.91 424,248.71 425.38,246.38 426.76,243.95 428.14,241.43 429.52,238.85 430.9,236.22" fill="none" stroke="#ffcf6a" stroke-width="1" stroke-linejoin="round" stroke-linecap="round"/>
<polyline points="320.5,271.5 321.88,271.5 323.26,271.5 324.64,271.5 326.02,271.5 327.4,271.5 328.78,271.5 330.16,271.5 331.54,271.5 332.92,271.49 334.3,271.49 335.68,271.49 337.06,271.49 338.44,271.49 339.82,271.49 341.2,271.49 342.58,271.49 343.96,271.48 345.34,271.48 346.72,271.48 348.1,271.47 349.48,271.47 350.86,271.47 352.24,271.46 353.62,271.45 355,271.45 356.38,271.44 357.76,271.43 359.14,271.42 360.52,271.41 361.9,271.39 363.28,271.38 364.66,271.36 366.04,271.34 367.42,271.31 368.8,271.28 370.18,271.25 371.56,271.21 372.94,271.16 374.32,271.11 375.7,271.05 377.08,270.98 378.46,270.9 379.84,270.81 381.22,270.71 382.6,270.59 383.98,270.45 385.36,270.28 386.74,270.1 388.12,269.89 389.5,269.65 390.88,269.37 392.26,269.05 393.64,268.68 395.02,268.27 396.4,267.79 397.78,267.25 399.16,266.63 400.54,265.94 401.92,265.15 403.3,264.27 404.68,263.27 406.06,262.16 407.44,260.92 408.82,259.55 410.2,258.04 411.58,256.39 412.96,254.59 414.34,252.64 415.72,250.55 417.1,248.33 418.48,245.99 419.86,243.54 421.24,241.01 422.62,238.42 424,235.78 425.38,233.14 426.76,230.51 428.14,227.93 429.52,225.42 430.9,222.99" fill="none" stroke="#990f0f" stroke-width="1.4" stroke-linejoin="round" stroke-linecap="round"/>
<polyline points="320.5,269.04 321.88,268.67 323.26,268.25 324.64,267.77 326.02,267.23 327.4,266.61 328.78,265.92 330.16,265.13 331.54,264.24 332.92,263.24 334.3,262.12 335.68,260.88 337.06,259.51 338.44,257.99 339.82,256.33 341.2,254.53 342.58,252.58 343.96,250.48 345.34,248.26 346.72,245.92 348.1,243.47 349.48,240.93 350.86,238.33 352.24,235.7 353.62,233.06 355,230.43 356.38,227.85 357.76,225.34 359.14,222.92 360.52,220.6 361.9,218.42 363.28,216.36 364.66,214.45 366.04,212.69 367.42,211.07 368.8,209.59 370.18,208.26 371.56,207.05 372.94,205.97 374.32,205 375.7,204.14 377.08,203.38 378.46,202.7 379.84,202.11 381.22,201.59 382.6,201.13 383.98,200.72 385.36,200.37 386.74,200.06 388.12,199.79 389.5,199.56 390.88,199.35 392.26,199.17 393.64,199.02 395.02,198.88 396.4,198.77 397.78,198.66 399.16,198.58 400.54,198.5 401.92,198.43 403.3,198.38 404.68,198.32 406.06,198.28 407.44,198.24 408.82,198.21 410.2,198.18 411.58,198.16 412.96,198.14 414.34,198.12 415.72,198.1 417.1,198.09 418.48,198.08 419.86,198.07 421.24,198.06 422.62,198.05 424,198.04 425.38,198.04 426.76,198.03 428.14,198.03 429.52,198.02 430.9,198.02" fill="none" stroke="#2f9a25" stroke-width="1.35" stroke-linejoin="round" stroke-linecap="round"/>
<text x="326.2" y="200.5" font-size="7" font-weight="bold" text-anchor="start" fill="#000">25nM venetoclax</text>
<line x1="465.4" y1="196.7" x2="465.4" y2="272" stroke="#000" stroke-width="1.1"/>
<line x1="464.9" y1="271.5" x2="577.3" y2="271.5" stroke="#222" stroke-width="1.2"/>
<line x1="462.4" y1="271.5" x2="465.4" y2="271.5" stroke="#000" stroke-width="0.8"/>
<text x="461.9" y="273.5" font-size="5.6" text-anchor="end" fill="#222">0</text>
<line x1="462.4" y1="256.64" x2="465.4" y2="256.64" stroke="#000" stroke-width="0.8"/>
<text x="461.9" y="258.64" font-size="5.6" text-anchor="end" fill="#222">20</text>
<line x1="462.4" y1="241.78" x2="465.4" y2="241.78" stroke="#000" stroke-width="0.8"/>
<text x="461.9" y="243.78" font-size="5.6" text-anchor="end" fill="#222">40</text>
<line x1="462.4" y1="226.92" x2="465.4" y2="226.92" stroke="#000" stroke-width="0.8"/>
<text x="461.9" y="228.92" font-size="5.6" text-anchor="end" fill="#222">60</text>
<line x1="462.4" y1="212.06" x2="465.4" y2="212.06" stroke="#000" stroke-width="0.8"/>
<text x="461.9" y="214.06" font-size="5.6" text-anchor="end" fill="#222">80</text>
<line x1="462.4" y1="197.2" x2="465.4" y2="197.2" stroke="#000" stroke-width="0.8"/>
<text x="461.9" y="199.2" font-size="5.6" text-anchor="end" fill="#222">100</text>
<line x1="465.4" y1="271.5" x2="465.4" y2="274.1" stroke="#000" stroke-width="0.8"/>
<text x="465.4" y="280.6" font-size="5.8" fill="#222" text-anchor="middle">10<tspan font-size="4.2" dy="-2.3">-1</tspan></text>
<line x1="487.78" y1="271.5" x2="487.78" y2="274.1" stroke="#000" stroke-width="0.8"/>
<text x="487.78" y="280.6" font-size="5.8" fill="#222" text-anchor="middle">10<tspan font-size="4.2" dy="-2.3">0</tspan></text>
<line x1="510.16" y1="271.5" x2="510.16" y2="274.1" stroke="#000" stroke-width="0.8"/>
<text x="510.16" y="280.6" font-size="5.8" fill="#222" text-anchor="middle">10<tspan font-size="4.2" dy="-2.3">1</tspan></text>
<line x1="532.54" y1="271.5" x2="532.54" y2="274.1" stroke="#000" stroke-width="0.8"/>
<text x="532.54" y="280.6" font-size="5.8" fill="#222" text-anchor="middle">10<tspan font-size="4.2" dy="-2.3">2</tspan></text>
<line x1="554.92" y1="271.5" x2="554.92" y2="274.1" stroke="#000" stroke-width="0.8"/>
<text x="554.92" y="280.6" font-size="5.8" fill="#222" text-anchor="middle">10<tspan font-size="4.2" dy="-2.3">3</tspan></text>
<line x1="577.3" y1="271.5" x2="577.3" y2="274.1" stroke="#000" stroke-width="0.8"/>
<text x="577.3" y="280.6" font-size="5.8" fill="#222" text-anchor="middle">10<tspan font-size="4.2" dy="-2.3">4</tspan></text>
<text x="521.35" y="289.4" font-size="6.5" font-weight="bold" text-anchor="middle" fill="#000">venetoclax [72h, nM]</text>
<text x="449.2" y="234.35" font-size="6.45" font-weight="bold" text-anchor="middle" fill="#000" transform="rotate(-90 449.2 234.35)">cell death FSC/SSC [%]</text>
<line x1="465.9" y1="234.5" x2="577.3" y2="234.5" stroke="#666" stroke-width="1.2" stroke-dasharray="2.7,1.0"/>
<polyline points="465.4,271.5 466.8,271.5 468.2,271.5 469.6,271.5 471,271.5 472.39,271.5 473.79,271.5 475.19,271.5 476.59,271.5 477.99,271.5 479.39,271.5 480.79,271.5 482.18,271.5 483.58,271.5 484.98,271.5 486.38,271.49 487.78,271.49 489.18,271.49 490.58,271.49 491.98,271.49 493.38,271.49 494.77,271.49 496.17,271.49 497.57,271.48 498.97,271.48 500.37,271.48 501.77,271.48 503.17,271.47 504.56,271.47 505.96,271.46 507.36,271.46 508.76,271.45 510.16,271.44 511.56,271.43 512.96,271.42 514.36,271.41 515.75,271.4 517.15,271.38 518.55,271.36 519.95,271.34 521.35,271.32 522.75,271.29 524.15,271.25 525.55,271.22 526.94,271.17 528.34,271.12 529.74,271.06 531.14,271 532.54,270.92 533.94,270.83 535.34,270.73 536.74,270.61 538.13,270.48 539.53,270.32 540.93,270.14 542.33,269.94 543.73,269.7 545.13,269.43 546.53,269.12 547.93,268.76 549.32,268.36 550.72,267.89 552.12,267.37 553.52,266.77 554.92,266.09 556.32,265.32 557.72,264.45 559.12,263.48 560.51,262.39 561.91,261.18 563.31,259.83 564.71,258.34 566.11,256.71 567.51,254.93 568.91,253.01 570.31,250.94 571.7,248.73 573.1,246.4 574.5,243.95 575.9,241.42 577.3,238.81" fill="none" stroke="#ff9a10" stroke-width="1.1" stroke-linejoin="round" stroke-linecap="round"/>
<polyline points="465.4,271.5 466.8,271.5 468.2,271.5 469.6,271.5 471,271.5 472.39,271.5 473.79,271.5 475.19,271.5 476.59,271.5 477.99,271.5 479.39,271.5 480.79,271.5 482.18,271.49 483.58,271.49 484.98,271.49 486.38,271.49 487.78,271.49 489.18,271.49 490.58,271.49 491.98,271.48 493.38,271.48 494.77,271.48 496.17,271.48 497.57,271.47 498.97,271.47 500.37,271.46 501.77,271.46 503.17,271.45 504.56,271.44 505.96,271.44 507.36,271.43 508.76,271.41 510.16,271.4 511.56,271.39 512.96,271.37 514.36,271.35 515.75,271.33 517.15,271.3 518.55,271.27 519.95,271.23 521.35,271.19 522.75,271.14 524.15,271.09 525.55,271.02 526.94,270.95 528.34,270.87 529.74,270.77 531.14,270.66 532.54,270.53 533.94,270.38 535.34,270.21 536.74,270.01 538.13,269.79 539.53,269.53 540.93,269.24 542.33,268.9 543.73,268.51 545.13,268.07 546.53,267.57 547.93,266.99 549.32,266.35 550.72,265.61 552.12,264.78 553.52,263.85 554.92,262.8 556.32,261.64 557.72,260.34 559.12,258.9 560.51,257.33 561.91,255.6 563.31,253.73 564.71,251.71 566.11,249.55 567.51,247.27 568.91,244.86 570.31,242.35 571.7,239.77 573.1,237.13 574.5,234.46 575.9,231.79 577.3,229.15" fill="none" stroke="#ff2a1a" stroke-width="1.2" stroke-linejoin="round" stroke-linecap="round"/>
<polyline points="465.4,271.5 466.8,271.5 468.2,271.5 469.6,271.5 471,271.5 472.39,271.5 473.79,271.5 475.19,271.5 476.59,271.5 477.99,271.5 479.39,271.5 480.79,271.5 482.18,271.5 483.58,271.5 484.98,271.5 486.38,271.49 487.78,271.49 489.18,271.49 490.58,271.49 491.98,271.49 493.38,271.49 494.77,271.49 496.17,271.48 497.57,271.48 498.97,271.48 500.37,271.48 501.77,271.47 503.17,271.47 504.56,271.46 505.96,271.46 507.36,271.45 508.76,271.45 510.16,271.44 511.56,271.43 512.96,271.42 514.36,271.4 515.75,271.39 517.15,271.37 518.55,271.35 519.95,271.33 521.35,271.3 522.75,271.27 524.15,271.23 525.55,271.19 526.94,271.15 528.34,271.09 529.74,271.03 531.14,270.96 532.54,270.87 533.94,270.78 535.34,270.67 536.74,270.54 538.13,270.39 539.53,270.22 540.93,270.03 542.33,269.81 543.73,269.55 545.13,269.26 546.53,268.92 547.93,268.54 549.32,268.1 550.72,267.61 552.12,267.04 553.52,266.4 554.92,265.67 556.32,264.85 557.72,263.92 559.12,262.88 560.51,261.73 561.91,260.44 563.31,259.01 564.71,257.45 566.11,255.73 567.51,253.87 568.91,251.86 570.31,249.72 571.7,247.44 573.1,245.04 574.5,242.54 575.9,239.96 577.3,237.32" fill="none" stroke="#990f0f" stroke-width="1.3" stroke-linejoin="round" stroke-linecap="round"/>
<polyline points="465.4,267.09 466.8,266.45 468.2,265.73 469.6,264.92 471,264 472.39,262.98 473.79,261.83 475.19,260.55 476.59,259.14 477.99,257.59 479.39,255.89 480.79,254.04 482.18,252.04 483.58,249.91 484.98,247.64 486.38,245.25 487.78,242.76 489.18,240.18 490.58,237.55 491.98,234.88 493.38,232.21 494.77,229.57 496.17,226.96 497.57,224.44 498.97,222.01 500.37,219.69 501.77,217.5 503.17,215.44 504.56,213.54 505.96,211.78 507.36,210.16 508.76,208.69 510.16,207.36 511.56,206.17 512.96,205.09 514.36,204.13 515.75,203.28 517.15,202.52 518.55,201.85 519.95,201.26 521.35,200.75 522.75,200.29 524.15,199.89 525.55,199.54 526.94,199.24 528.34,198.97 529.74,198.74 531.14,198.54 532.54,198.36 533.94,198.21 535.34,198.07 536.74,197.96 538.13,197.86 539.53,197.77 540.93,197.69 542.33,197.63 543.73,197.57 545.13,197.52 546.53,197.48 547.93,197.44 549.32,197.41 550.72,197.38 552.12,197.36 553.52,197.34 554.92,197.32 556.32,197.3 557.72,197.29 559.12,197.28 560.51,197.27 561.91,197.26 563.31,197.25 564.71,197.24 566.11,197.24 567.51,197.23 568.91,197.23 570.31,197.22 571.7,197.22 573.1,197.22 574.5,197.22 575.9,197.21 577.3,197.21" fill="none" stroke="#2f9a25" stroke-width="1.35" stroke-linejoin="round" stroke-linecap="round"/>
<text x="472.1" y="199.7" font-size="7" font-weight="bold" text-anchor="start" fill="#000">50nM venetoclax</text>
<line x1="610.4" y1="196.7" x2="610.4" y2="271.6" stroke="#000" stroke-width="1.1"/>
<line x1="609.9" y1="271.1" x2="721.5" y2="271.1" stroke="#222" stroke-width="1.2"/>
<line x1="607.4" y1="271.1" x2="610.4" y2="271.1" stroke="#000" stroke-width="0.8"/>
<text x="606.9" y="273.1" font-size="5.6" text-anchor="end" fill="#222">0</text>
<line x1="607.4" y1="256.32" x2="610.4" y2="256.32" stroke="#000" stroke-width="0.8"/>
<text x="606.9" y="258.32" font-size="5.6" text-anchor="end" fill="#222">20</text>
<line x1="607.4" y1="241.54" x2="610.4" y2="241.54" stroke="#000" stroke-width="0.8"/>
<text x="606.9" y="243.54" font-size="5.6" text-anchor="end" fill="#222">40</text>
<line x1="607.4" y1="226.76" x2="610.4" y2="226.76" stroke="#000" stroke-width="0.8"/>
<text x="606.9" y="228.76" font-size="5.6" text-anchor="end" fill="#222">60</text>
<line x1="607.4" y1="211.98" x2="610.4" y2="211.98" stroke="#000" stroke-width="0.8"/>
<text x="606.9" y="213.98" font-size="5.6" text-anchor="end" fill="#222">80</text>
<line x1="607.4" y1="197.2" x2="610.4" y2="197.2" stroke="#000" stroke-width="0.8"/>
<text x="606.9" y="199.2" font-size="5.6" text-anchor="end" fill="#222">100</text>
<line x1="610.4" y1="271.1" x2="610.4" y2="273.7" stroke="#000" stroke-width="0.8"/>
<text x="610.4" y="280.2" font-size="5.8" fill="#222" text-anchor="middle">10<tspan font-size="4.2" dy="-2.3">-1</tspan></text>
<line x1="632.62" y1="271.1" x2="632.62" y2="273.7" stroke="#000" stroke-width="0.8"/>
<text x="632.62" y="280.2" font-size="5.8" fill="#222" text-anchor="middle">10<tspan font-size="4.2" dy="-2.3">0</tspan></text>
<line x1="654.84" y1="271.1" x2="654.84" y2="273.7" stroke="#000" stroke-width="0.8"/>
<text x="654.84" y="280.2" font-size="5.8" fill="#222" text-anchor="middle">10<tspan font-size="4.2" dy="-2.3">1</tspan></text>
<line x1="677.06" y1="271.1" x2="677.06" y2="273.7" stroke="#000" stroke-width="0.8"/>
<text x="677.06" y="280.2" font-size="5.8" fill="#222" text-anchor="middle">10<tspan font-size="4.2" dy="-2.3">2</tspan></text>
<line x1="699.28" y1="271.1" x2="699.28" y2="273.7" stroke="#000" stroke-width="0.8"/>
<text x="699.28" y="280.2" font-size="5.8" fill="#222" text-anchor="middle">10<tspan font-size="4.2" dy="-2.3">3</tspan></text>
<line x1="721.5" y1="271.1" x2="721.5" y2="273.7" stroke="#000" stroke-width="0.8"/>
<text x="721.5" y="280.2" font-size="5.8" fill="#222" text-anchor="middle">10<tspan font-size="4.2" dy="-2.3">4</tspan></text>
<text x="665.95" y="289" font-size="6.5" font-weight="bold" text-anchor="middle" fill="#000">venetoclax [nM, 72h]</text>
<text x="593.7" y="234.15" font-size="6.45" font-weight="bold" text-anchor="middle" fill="#000" transform="rotate(-90 593.7 234.15)">cell death FSC/SSC [%]</text>
<line x1="610.9" y1="234.5" x2="721.5" y2="234.5" stroke="#666" stroke-width="1.2" stroke-dasharray="2.7,1.0"/>
<polyline points="610.4,271.1 611.79,271.1 613.18,271.1 614.57,271.1 615.95,271.1 617.34,271.1 618.73,271.1 620.12,271.1 621.51,271.1 622.9,271.1 624.29,271.1 625.68,271.1 627.06,271.1 628.45,271.1 629.84,271.1 631.23,271.1 632.62,271.1 634.01,271.1 635.4,271.1 636.79,271.1 638.17,271.1 639.56,271.1 640.95,271.09 642.34,271.09 643.73,271.09 645.12,271.09 646.51,271.09 647.9,271.09 649.28,271.09 650.67,271.09 652.06,271.08 653.45,271.08 654.84,271.08 656.23,271.07 657.62,271.07 659.01,271.07 660.39,271.06 661.78,271.05 663.17,271.05 664.56,271.04 665.95,271.03 667.34,271.02 668.73,271.01 670.12,270.99 671.5,270.98 672.89,270.96 674.28,270.93 675.67,270.91 677.06,270.88 678.45,270.85 679.84,270.81 681.23,270.76 682.62,270.71 684,270.65 685.39,270.58 686.78,270.5 688.17,270.41 689.56,270.3 690.95,270.18 692.34,270.04 693.73,269.88 695.11,269.69 696.5,269.48 697.89,269.24 699.28,268.96 700.67,268.64 702.06,268.27 703.45,267.85 704.84,267.37 706.22,266.83 707.61,266.21 709,265.51 710.39,264.72 711.78,263.83 713.17,262.83 714.56,261.72 715.94,260.47 717.33,259.09 718.72,257.58 720.11,255.91 721.5,254.1" fill="none" stroke="#ff9a10" stroke-width="1.1" stroke-linejoin="round" stroke-linecap="round"/>
<polyline points="610.4,271.1 611.79,271.1 613.18,271.1 614.57,271.1 615.95,271.1 617.34,271.1 618.73,271.1 620.12,271.1 621.51,271.1 622.9,271.1 624.29,271.1 625.68,271.1 627.06,271.1 628.45,271.1 629.84,271.1 631.23,271.1 632.62,271.1 634.01,271.1 635.4,271.1 636.79,271.1 638.17,271.1 639.56,271.09 640.95,271.09 642.34,271.09 643.73,271.09 645.12,271.09 646.51,271.09 647.9,271.09 649.28,271.09 650.67,271.08 652.06,271.08 653.45,271.08 654.84,271.08 656.23,271.07 657.62,271.07 659.01,271.06 660.39,271.06 661.78,271.05 663.17,271.04 664.56,271.03 665.95,271.02 667.34,271.01 668.73,271 670.12,270.98 671.5,270.96 672.89,270.94 674.28,270.92 675.67,270.89 677.06,270.85 678.45,270.82 679.84,270.77 681.23,270.72 682.62,270.66 684,270.6 685.39,270.52 686.78,270.43 688.17,270.33 689.56,270.21 690.95,270.08 692.34,269.92 693.73,269.74 695.11,269.53 696.5,269.3 697.89,269.03 699.28,268.72 700.67,268.36 702.06,267.95 703.45,267.49 704.84,266.96 706.22,266.37 707.61,265.69 709,264.92 710.39,264.05 711.78,263.08 713.17,261.99 714.56,260.78 715.94,259.43 717.33,257.95 718.72,256.32 720.11,254.55 721.5,252.63" fill="none" stroke="#ffcf6a" stroke-width="1" stroke-linejoin="round" stroke-linecap="round"/>
<polyline points="610.4,271.1 611.79,271.1 613.18,271.1 614.57,271.1 615.95,271.1 617.34,271.1 618.73,271.1 620.12,271.1 621.51,271.1 622.9,271.1 624.29,271.1 625.68,271.1 627.06,271.1 628.45,271.1 629.84,271.1 631.23,271.1 632.62,271.1 634.01,271.1 635.4,271.1 636.79,271.09 638.17,271.09 639.56,271.09 640.95,271.09 642.34,271.09 643.73,271.09 645.12,271.09 646.51,271.09 647.9,271.08 649.28,271.08 650.67,271.08 652.06,271.08 653.45,271.07 654.84,271.07 656.23,271.06 657.62,271.06 659.01,271.05 660.39,271.04 661.78,271.03 663.17,271.02 664.56,271.01 665.95,271 667.34,270.98 668.73,270.96 670.12,270.94 671.5,270.91 672.89,270.89 674.28,270.85 675.67,270.81 677.06,270.77 678.45,270.72 679.84,270.66 681.23,270.59 682.62,270.51 684,270.42 685.39,270.32 686.78,270.2 688.17,270.06 689.56,269.91 690.95,269.73 692.34,269.52 693.73,269.28 695.11,269.01 696.5,268.69 697.89,268.33 699.28,267.92 700.67,267.46 702.06,266.92 703.45,266.32 704.84,265.63 706.22,264.86 707.61,263.98 709,263 710.39,261.91 711.78,260.68 713.17,259.33 714.56,257.83 715.94,256.2 717.33,254.41 718.72,252.48 720.11,250.4 721.5,248.19" fill="none" stroke="#ff9c9c" stroke-width="1.2" stroke-linejoin="round" stroke-linecap="round"/>
<polyline points="610.4,271.1 611.79,271.1 613.18,271.1 614.57,271.1 615.95,271.1 617.34,271.1 618.73,271.1 620.12,271.1 621.51,271.1 622.9,271.1 624.29,271.1 625.68,271.1 627.06,271.1 628.45,271.1 629.84,271.1 631.23,271.1 632.62,271.1 634.01,271.09 635.4,271.09 636.79,271.09 638.17,271.09 639.56,271.09 640.95,271.09 642.34,271.09 643.73,271.09 645.12,271.08 646.51,271.08 647.9,271.08 649.28,271.07 650.67,271.07 652.06,271.06 653.45,271.06 654.84,271.05 656.23,271.05 657.62,271.04 659.01,271.03 660.39,271.02 661.78,271 663.17,270.99 664.56,270.97 665.95,270.95 667.34,270.93 668.73,270.9 670.12,270.87 671.5,270.84 672.89,270.79 674.28,270.75 675.67,270.69 677.06,270.63 678.45,270.56 679.84,270.48 681.23,270.38 682.62,270.27 684,270.14 685.39,270 686.78,269.83 688.17,269.64 689.56,269.41 690.95,269.16 692.34,268.87 693.73,268.54 695.11,268.15 696.5,267.72 697.89,267.22 699.28,266.66 700.67,266.02 702.06,265.29 703.45,264.48 704.84,263.56 706.22,262.52 707.61,261.37 709,260.09 710.39,258.67 711.78,257.11 713.17,255.41 714.56,253.55 715.94,251.56 717.33,249.42 718.72,247.15 720.11,244.77 721.5,242.28" fill="none" stroke="#ff2a1a" stroke-width="1.2" stroke-linejoin="round" stroke-linecap="round"/>
<polyline points="610.4,271.1 611.79,271.1 613.18,271.1 614.57,271.1 615.95,271.1 617.34,271.1 618.73,271.1 620.12,271.1 621.51,271.1 622.9,271.1 624.29,271.1 625.68,271.1 627.06,271.1 628.45,271.1 629.84,271.1 631.23,271.1 632.62,271.1 634.01,271.1 635.4,271.1 636.79,271.1 638.17,271.09 639.56,271.09 640.95,271.09 642.34,271.09 643.73,271.09 645.12,271.09 646.51,271.09 647.9,271.09 649.28,271.08 650.67,271.08 652.06,271.08 653.45,271.08 654.84,271.07 656.23,271.07 657.62,271.06 659.01,271.06 660.39,271.05 661.78,271.04 663.17,271.03 664.56,271.02 665.95,271.01 667.34,271 668.73,270.98 670.12,270.96 671.5,270.94 672.89,270.91 674.28,270.89 675.67,270.85 677.06,270.81 678.45,270.77 679.84,270.72 681.23,270.66 682.62,270.59 684,270.51 685.39,270.42 686.78,270.32 688.17,270.2 689.56,270.07 690.95,269.91 692.34,269.73 693.73,269.52 695.11,269.28 696.5,269.01 697.89,268.69 699.28,268.33 700.67,267.92 702.06,267.46 703.45,266.92 704.84,266.32 706.22,265.63 707.61,264.86 709,263.99 710.39,263.01 711.78,261.91 713.17,260.69 714.56,259.33 715.94,257.84 717.33,256.2 718.72,254.41 720.11,252.48 721.5,250.41" fill="none" stroke="#990f0f" stroke-width="1.3" stroke-linejoin="round" stroke-linecap="round"/>
<polyline points="610.4,270.02 611.79,269.86 613.18,269.67 614.57,269.45 615.95,269.21 617.34,268.92 618.73,268.6 620.12,268.22 621.51,267.8 622.9,267.31 624.29,266.76 625.68,266.13 627.06,265.43 628.45,264.62 629.84,263.72 631.23,262.71 632.62,261.58 634.01,260.32 635.4,258.93 636.79,257.39 638.17,255.71 639.56,253.88 640.95,251.91 642.34,249.8 643.73,247.55 645.12,245.18 646.51,242.71 647.9,240.16 649.28,237.54 650.67,234.89 652.06,232.24 653.45,229.6 654.84,227.01 656.23,224.49 657.62,222.06 659.01,219.75 660.39,217.56 661.78,215.5 663.17,213.59 664.56,211.83 665.95,210.22 667.34,208.74 668.73,207.41 670.12,206.21 671.5,205.13 672.89,204.17 674.28,203.31 675.67,202.55 677.06,201.88 678.45,201.29 679.84,200.77 681.23,200.31 682.62,199.91 684,199.56 685.39,199.25 686.78,198.98 688.17,198.75 689.56,198.54 690.95,198.37 692.34,198.21 693.73,198.08 695.11,197.96 696.5,197.86 697.89,197.77 699.28,197.7 700.67,197.63 702.06,197.57 703.45,197.52 704.84,197.48 706.22,197.44 707.61,197.41 709,197.38 710.39,197.36 711.78,197.34 713.17,197.32 714.56,197.3 715.94,197.29 717.33,197.28 718.72,197.27 720.11,197.26 721.5,197.25" fill="none" stroke="#2f9a25" stroke-width="1.35" stroke-linejoin="round" stroke-linecap="round"/>
<text x="617.1" y="199.7" font-size="7" font-weight="bold" text-anchor="start" fill="#000">100nM venetoclax</text>
<line x1="736.3" y1="213" x2="746" y2="213" stroke="#2f9a25" stroke-width="1.5"/>
<text x="750.2" y="217.5" font-size="6.5" fill="#111">VEN<tspan font-size="5.3" dy="-2.9">sens 1</tspan></text>
<line x1="736.3" y1="220.65" x2="746" y2="220.65" stroke="#ffcf6a" stroke-width="1"/>
<text x="750.2" y="225.15" font-size="6.5" fill="#111">VEN<tspan font-size="5.3" dy="-2.9">ins 1</tspan></text>
<line x1="736.3" y1="228.3" x2="746" y2="228.3" stroke="#ff9a10" stroke-width="1.3"/>
<text x="750.2" y="232.8" font-size="6.5" fill="#111">VEN<tspan font-size="5.3" dy="-2.9">ins 2</tspan></text>
<line x1="736.3" y1="235.95" x2="746" y2="235.95" stroke="#ff9c9c" stroke-width="1.3"/>
<text x="750.2" y="240.45" font-size="6.5" fill="#111">VEN<tspan font-size="5.3" dy="-2.9">ins 3</tspan></text>
<line x1="736.3" y1="243.6" x2="746" y2="243.6" stroke="#ff2a1a" stroke-width="1.3"/>
<text x="750.2" y="248.1" font-size="6.5" fill="#111">VEN<tspan font-size="5.3" dy="-2.9">ins 4</tspan></text>
<line x1="736.3" y1="251.25" x2="746" y2="251.25" stroke="#990f0f" stroke-width="1.3"/>
<text x="750.2" y="255.75" font-size="6.5" fill="#111">VEN<tspan font-size="5.3" dy="-2.9">ins 5</tspan></text>
<line x1="56.3" y1="362.4" x2="56.3" y2="417.4" stroke="#000" stroke-width="1.3"/>
<line x1="56.3" y1="428.1" x2="56.3" y2="482.8" stroke="#000" stroke-width="1.3"/>
<line x1="52.4" y1="417.5" x2="59.4" y2="417.5" stroke="#000" stroke-width="1.3"/>
<line x1="52.4" y1="427.9" x2="59.4" y2="427.9" stroke="#000" stroke-width="1.3"/>
<line x1="55.6" y1="482.2" x2="240" y2="482.2" stroke="#000" stroke-width="1.3"/>
<line x1="49.4" y1="404.67" x2="56.3" y2="404.67" stroke="#000" stroke-width="1.1"/>
<text x="47.4" y="408.07" font-size="9.6" text-anchor="end" fill="#111">10000</text>
<line x1="49.4" y1="390.74" x2="56.3" y2="390.74" stroke="#000" stroke-width="1.1"/>
<text x="47.4" y="394.14" font-size="9.6" text-anchor="end" fill="#111">20000</text>
<line x1="49.4" y1="376.81" x2="56.3" y2="376.81" stroke="#000" stroke-width="1.1"/>
<text x="47.4" y="380.21" font-size="9.6" text-anchor="end" fill="#111">30000</text>
<line x1="49.4" y1="362.88" x2="56.3" y2="362.88" stroke="#000" stroke-width="1.1"/>
<text x="47.4" y="366.28" font-size="9.6" text-anchor="end" fill="#111">40000</text>
<line x1="49.4" y1="482.2" x2="56.3" y2="482.2" stroke="#000" stroke-width="1.1"/>
<text x="47.4" y="485.6" font-size="9.6" text-anchor="end" fill="#111">0</text>
<line x1="49.4" y1="464.17" x2="56.3" y2="464.17" stroke="#000" stroke-width="1.1"/>
<text x="47.4" y="467.57" font-size="9.6" text-anchor="end" fill="#111">100</text>
<line x1="49.4" y1="446.14" x2="56.3" y2="446.14" stroke="#000" stroke-width="1.1"/>
<text x="47.4" y="449.54" font-size="9.6" text-anchor="end" fill="#111">200</text>
<text x="47.4" y="431.51" font-size="9.6" text-anchor="end" fill="#111">300</text>
<line x1="55.5" y1="482.2" x2="55.5" y2="486.4" stroke="#000" stroke-width="1.1"/>
<text x="55.5" y="498.8" font-size="9.8" text-anchor="middle" fill="#111">0</text>
<line x1="78.25" y1="482.2" x2="78.25" y2="484.6" stroke="#000" stroke-width="1.1"/>
<line x1="101" y1="482.2" x2="101" y2="486.4" stroke="#000" stroke-width="1.1"/>
<text x="101" y="498.8" font-size="9.8" text-anchor="middle" fill="#111">25</text>
<line x1="123.75" y1="482.2" x2="123.75" y2="484.6" stroke="#000" stroke-width="1.1"/>
<line x1="146.5" y1="482.2" x2="146.5" y2="486.4" stroke="#000" stroke-width="1.1"/>
<text x="146.5" y="498.8" font-size="9.8" text-anchor="middle" fill="#111">50</text>
<line x1="169.25" y1="482.2" x2="169.25" y2="484.6" stroke="#000" stroke-width="1.1"/>
<line x1="192" y1="482.2" x2="192" y2="486.4" stroke="#000" stroke-width="1.1"/>
<text x="192" y="498.8" font-size="9.8" text-anchor="middle" fill="#111">75</text>
<line x1="214.75" y1="482.2" x2="214.75" y2="484.6" stroke="#000" stroke-width="1.1"/>
<line x1="237.5" y1="482.2" x2="237.5" y2="486.4" stroke="#000" stroke-width="1.1"/>
<text x="237.5" y="498.8" font-size="9.8" text-anchor="middle" fill="#111">100</text>
<text x="146" y="511.2" font-size="9.95" font-weight="bold" text-anchor="middle" fill="#000">exposure to increasing conc of VEN</text>
<text x="14.6" y="422" font-size="10" font-weight="bold" text-anchor="middle" fill="#000" transform="rotate(-90 14.6 422)">venetoclax EC50 [in nM]</text>
<polyline points="66.42,481.84 77.34,479.5 101,481.84 146.5,482.02 237.5,481.3" fill="none" stroke="#2f9f25" stroke-width="1" stroke-linejoin="round" stroke-linecap="round"/>
<circle cx="66.42" cy="481.84" r="2.9" fill="#2f9f25"/>
<circle cx="77.34" cy="479.5" r="2.9" fill="#2f9f25"/>
<circle cx="101" cy="481.84" r="2.9" fill="#2f9f25"/>
<circle cx="146.5" cy="482.02" r="2.9" fill="#2f9f25"/>
<circle cx="237.5" cy="481.3" r="2.9" fill="#2f9f25"/>
<polyline points="77.34,416.93 101,407.87 146.5,402.86 237.5,381.96" fill="none" stroke="#ff2424" stroke-width="0.9" stroke-linejoin="round" stroke-linecap="round"/>
<line x1="68.42" y1="435.33" x2="72.02" y2="428.51" stroke="#ff2424" stroke-width="0.9"/>
<line x1="66.42" y1="434.83" x2="66.42" y2="444.83" stroke="#ff2424" stroke-width="0.8"/>
<line x1="63.02" y1="434.83" x2="69.82" y2="434.83" stroke="#ff2424" stroke-width="0.9"/>
<line x1="63.02" y1="444.83" x2="69.82" y2="444.83" stroke="#ff2424" stroke-width="0.9"/>
<line x1="101" y1="403.27" x2="101" y2="412.47" stroke="#ff2424" stroke-width="0.8"/>
<line x1="97.6" y1="403.27" x2="104.4" y2="403.27" stroke="#ff2424" stroke-width="0.9"/>
<line x1="97.6" y1="412.47" x2="104.4" y2="412.47" stroke="#ff2424" stroke-width="0.9"/>
<line x1="146.5" y1="400.86" x2="146.5" y2="404.86" stroke="#ff2424" stroke-width="0.8"/>
<line x1="143.1" y1="400.86" x2="149.9" y2="400.86" stroke="#ff2424" stroke-width="0.9"/>
<line x1="143.1" y1="404.86" x2="149.9" y2="404.86" stroke="#ff2424" stroke-width="0.9"/>
<line x1="237.5" y1="371.36" x2="237.5" y2="392.76" stroke="#ff2424" stroke-width="0.8"/>
<line x1="234.1" y1="371.36" x2="240.9" y2="371.36" stroke="#ff2424" stroke-width="0.9"/>
<line x1="234.1" y1="392.76" x2="240.9" y2="392.76" stroke="#ff2424" stroke-width="0.9"/>
<rect x="63.32" y="436.73" width="6.2" height="6.2" fill="#ff2424"/>
<rect x="74.24" y="413.83" width="6.2" height="6.2" fill="#ff2424"/>
<rect x="97.9" y="404.77" width="6.2" height="6.2" fill="#ff2424"/>
<rect x="143.4" y="399.76" width="6.2" height="6.2" fill="#ff2424"/>
<rect x="234.4" y="378.86" width="6.2" height="6.2" fill="#ff2424"/>
<line x1="175.3" y1="458.7" x2="185.5" y2="458.7" stroke="#2f9f25" stroke-width="0.8"/>
<circle cx="180.5" cy="458.7" r="2.2" fill="#2f9f25"/>
<line x1="175.3" y1="470.2" x2="185.5" y2="470.2" stroke="#ff2424" stroke-width="0.8"/>
<rect x="178.4" y="468.1" width="4.3" height="4.3" fill="#ff2424"/>
<text x="190.2" y="461.5" font-size="7.1" fill="#111">VEN<tspan font-size="4.6" dy="-2.9">sens</tspan><tspan font-size="7.1" dy="2.9"> line 1</tspan></text>
<text x="190.2" y="472.7" font-size="7.1" fill="#111">VEN<tspan font-size="4.6" dy="-2.9">ins</tspan><tspan font-size="7.1" dy="2.9"> line 1-5</tspan></text>
<line x1="395.11" y1="424.29" x2="395.11" y2="442.93" stroke="#2a9a6a" stroke-width="0.8"/>
<line x1="393.11" y1="424.29" x2="397.11" y2="424.29" stroke="#2a9a6a" stroke-width="0.8"/>
<line x1="393.11" y1="442.93" x2="397.11" y2="442.93" stroke="#c9e0a0" stroke-width="0.8"/>
<line x1="420.17" y1="461.57" x2="420.17" y2="469.72" stroke="#b05050" stroke-width="0.8"/>
<polyline points="370.06,370.7 395.11,430.12 420.17,462.74 445.23,477.3 520.4,485.45" fill="none" stroke="#8b0000" stroke-width="1.6" stroke-linejoin="round" stroke-linecap="round"/>
<polyline points="370.06,370.7 395.11,431.28 420.17,463.9 445.23,476.95 520.4,485.1" fill="none" stroke="#ff2a00" stroke-width="1.6" stroke-linejoin="round" stroke-linecap="round"/>
<polyline points="370.06,370.7 395.11,428.95 420.17,465.06 445.23,477.65 520.4,485.45" fill="none" stroke="#ff9090" stroke-width="1.6" stroke-linejoin="round" stroke-linecap="round"/>
<polyline points="370.06,370.7 395.11,433.61 420.17,463.32 445.23,477.18 520.4,485.34" fill="none" stroke="#ff8c00" stroke-width="1.6" stroke-linejoin="round" stroke-linecap="round"/>
<polyline points="370.06,370.7 395.11,435.94 420.17,466.23 445.23,477.88 520.4,485.8" fill="none" stroke="#ffd27a" stroke-width="1.6" stroke-linejoin="round" stroke-linecap="round"/>
<polyline points="370.06,370.7 395.11,432.44 420.17,465.06 445.23,477.88 520.4,485.8" fill="none" stroke="#6e9420" stroke-width="1.6" stroke-linejoin="round" stroke-linecap="round"/>
<polyline points="370.06,370.7 395.11,428.95 420.17,464.48 445.23,478.35 520.4,485.8" fill="none" stroke="#1c8c64" stroke-width="1.6" stroke-linejoin="round" stroke-linecap="round"/>
<polyline points="370.06,370.7 395.11,433.61 420.17,467.39 445.23,478.46 520.4,486.03" fill="none" stroke="#14e014" stroke-width="1.6" stroke-linejoin="round" stroke-linecap="round"/>
<polyline points="370.06,370.7 395.11,437.11 420.17,467.39 445.23,478.81 520.4,486.03" fill="none" stroke="#86ec86" stroke-width="1.6" stroke-linejoin="round" stroke-linecap="round"/>
<polyline points="370.06,370.7 395.11,438.27 420.17,467.39 445.23,479.04 520.4,486.03" fill="none" stroke="#cdf55a" stroke-width="1.6" stroke-linejoin="round" stroke-linecap="round"/>
<rect x="367.96" y="368.6" width="4.2" height="4.2" fill="#8b0000"/>
<rect x="393.01" y="428.01" width="4.2" height="4.2" fill="#8b0000"/>
<rect x="418.07" y="460.63" width="4.2" height="4.2" fill="#8b0000"/>
<rect x="443.13" y="475.2" width="4.2" height="4.2" fill="#8b0000"/>
<rect x="518.3" y="483.35" width="4.2" height="4.2" fill="#8b0000"/>
<rect x="367.96" y="368.6" width="4.2" height="4.2" fill="#ff2a00"/>
<rect x="393.01" y="429.18" width="4.2" height="4.2" fill="#ff2a00"/>
<rect x="418.07" y="461.8" width="4.2" height="4.2" fill="#ff2a00"/>
<rect x="443.13" y="474.85" width="4.2" height="4.2" fill="#ff2a00"/>
<rect x="518.3" y="483" width="4.2" height="4.2" fill="#ff2a00"/>
<rect x="367.96" y="368.6" width="4.2" height="4.2" fill="#ff9090"/>
<rect x="393.01" y="426.85" width="4.2" height="4.2" fill="#ff9090"/>
<rect x="418.07" y="462.96" width="4.2" height="4.2" fill="#ff9090"/>
<rect x="443.13" y="475.55" width="4.2" height="4.2" fill="#ff9090"/>
<rect x="518.3" y="483.35" width="4.2" height="4.2" fill="#ff9090"/>
<rect x="367.96" y="368.6" width="4.2" height="4.2" fill="#ff8c00"/>
<rect x="393.01" y="431.51" width="4.2" height="4.2" fill="#ff8c00"/>
<rect x="418.07" y="461.22" width="4.2" height="4.2" fill="#ff8c00"/>
<rect x="443.13" y="475.08" width="4.2" height="4.2" fill="#ff8c00"/>
<rect x="518.3" y="483.24" width="4.2" height="4.2" fill="#ff8c00"/>
<rect x="367.96" y="368.6" width="4.2" height="4.2" fill="#ffd27a"/>
<rect x="393.01" y="433.84" width="4.2" height="4.2" fill="#ffd27a"/>
<rect x="418.07" y="464.13" width="4.2" height="4.2" fill="#ffd27a"/>
<rect x="443.13" y="475.78" width="4.2" height="4.2" fill="#ffd27a"/>
<rect x="518.3" y="483.7" width="4.2" height="4.2" fill="#ffd27a"/>
<rect x="367.96" y="368.6" width="4.2" height="4.2" fill="#6e9420"/>
<rect x="393.01" y="430.34" width="4.2" height="4.2" fill="#6e9420"/>
<rect x="418.07" y="462.96" width="4.2" height="4.2" fill="#6e9420"/>
<rect x="443.13" y="475.78" width="4.2" height="4.2" fill="#6e9420"/>
<rect x="518.3" y="483.7" width="4.2" height="4.2" fill="#6e9420"/>
<rect x="367.96" y="368.6" width="4.2" height="4.2" fill="#1c8c64"/>
<rect x="393.01" y="426.85" width="4.2" height="4.2" fill="#1c8c64"/>
<rect x="418.07" y="462.38" width="4.2" height="4.2" fill="#1c8c64"/>
<rect x="443.13" y="476.25" width="4.2" height="4.2" fill="#1c8c64"/>
<rect x="518.3" y="483.7" width="4.2" height="4.2" fill="#1c8c64"/>
<rect x="367.96" y="368.6" width="4.2" height="4.2" fill="#14e014"/>
<rect x="393.01" y="431.51" width="4.2" height="4.2" fill="#14e014"/>
<rect x="418.07" y="465.29" width="4.2" height="4.2" fill="#14e014"/>
<rect x="443.13" y="476.36" width="4.2" height="4.2" fill="#14e014"/>
<rect x="518.3" y="483.93" width="4.2" height="4.2" fill="#14e014"/>
<rect x="367.96" y="368.6" width="4.2" height="4.2" fill="#86ec86"/>
<rect x="393.01" y="435" width="4.2" height="4.2" fill="#86ec86"/>
<rect x="418.07" y="465.29" width="4.2" height="4.2" fill="#86ec86"/>
<rect x="443.13" y="476.71" width="4.2" height="4.2" fill="#86ec86"/>
<rect x="518.3" y="483.93" width="4.2" height="4.2" fill="#86ec86"/>
<rect x="367.96" y="368.6" width="4.2" height="4.2" fill="#cdf55a"/>
<rect x="393.01" y="436.17" width="4.2" height="4.2" fill="#cdf55a"/>
<rect x="418.07" y="465.29" width="4.2" height="4.2" fill="#cdf55a"/>
<rect x="443.13" y="476.94" width="4.2" height="4.2" fill="#cdf55a"/>
<rect x="518.3" y="483.93" width="4.2" height="4.2" fill="#cdf55a"/>
<line x1="344.6" y1="370.2" x2="344.6" y2="487.8" stroke="#000" stroke-width="1.3"/>
<line x1="344" y1="487.5" x2="521" y2="487.5" stroke="#000" stroke-width="1.3"/>
<line x1="339.8" y1="487.2" x2="344.6" y2="487.2" stroke="#000" stroke-width="1.2"/>
<text x="338.4" y="490.6" font-size="9.5" text-anchor="end" fill="#111">0</text>
<line x1="339.8" y1="458.07" x2="344.6" y2="458.07" stroke="#000" stroke-width="1.2"/>
<text x="338.4" y="461.47" font-size="9.5" text-anchor="end" fill="#111">25</text>
<line x1="339.8" y1="428.95" x2="344.6" y2="428.95" stroke="#000" stroke-width="1.2"/>
<text x="338.4" y="432.35" font-size="9.5" text-anchor="end" fill="#111">50</text>
<line x1="339.8" y1="399.82" x2="344.6" y2="399.82" stroke="#000" stroke-width="1.2"/>
<text x="338.4" y="403.22" font-size="9.5" text-anchor="end" fill="#111">75</text>
<line x1="339.8" y1="370.7" x2="344.6" y2="370.7" stroke="#000" stroke-width="1.2"/>
<text x="338.4" y="374.1" font-size="9.5" text-anchor="end" fill="#111">100</text>
<line x1="345" y1="487.5" x2="345" y2="492.3" stroke="#000" stroke-width="1.2"/>
<text x="345" y="502.8" font-size="9.6" text-anchor="middle" fill="#111">0</text>
<line x1="370.06" y1="487.5" x2="370.06" y2="492.3" stroke="#000" stroke-width="1.2"/>
<text x="370.06" y="502.8" font-size="9.6" text-anchor="middle" fill="#111">1</text>
<line x1="395.11" y1="487.5" x2="395.11" y2="492.3" stroke="#000" stroke-width="1.2"/>
<text x="395.11" y="502.8" font-size="9.6" text-anchor="middle" fill="#111">2</text>
<line x1="420.17" y1="487.5" x2="420.17" y2="492.3" stroke="#000" stroke-width="1.2"/>
<text x="420.17" y="502.8" font-size="9.6" text-anchor="middle" fill="#111">3</text>
<line x1="445.23" y1="487.5" x2="445.23" y2="492.3" stroke="#000" stroke-width="1.2"/>
<text x="445.23" y="502.8" font-size="9.6" text-anchor="middle" fill="#111">4</text>
<line x1="470.29" y1="487.5" x2="470.29" y2="492.3" stroke="#000" stroke-width="1.2"/>
<text x="470.29" y="502.8" font-size="9.6" text-anchor="middle" fill="#111">5</text>
<line x1="495.34" y1="487.5" x2="495.34" y2="492.3" stroke="#000" stroke-width="1.2"/>
<text x="495.34" y="502.8" font-size="9.6" text-anchor="middle" fill="#111">6</text>
<line x1="520.4" y1="487.5" x2="520.4" y2="492.3" stroke="#000" stroke-width="1.2"/>
<text x="520.4" y="502.8" font-size="9.6" text-anchor="middle" fill="#111">7</text>
<text x="433" y="516" font-size="9.6" font-weight="bold" text-anchor="middle" fill="#000">day</text>
<text x="308.9" y="430" font-size="9.4" font-weight="bold" text-anchor="middle" fill="#000" transform="rotate(-90 308.9 430)">proliferation</text>
<text x="320.4" y="428.9" font-size="9.45" font-weight="bold" text-anchor="middle" fill="#000" transform="rotate(-90 320.4 428.9)">[% of MFI normalized to day 1]</text>
<line x1="531" y1="382.3" x2="542" y2="382.3" stroke="#cdf55a" stroke-width="1.7"/>
<text x="547.1" y="387.6" font-size="7.9" fill="#111">VEN<tspan font-size="6.87" dy="-2.9">sens 1</tspan></text>
<line x1="531" y1="391.41" x2="542" y2="391.41" stroke="#86ec86" stroke-width="1.7"/>
<text x="547.1" y="396.71" font-size="7.9" fill="#111">VEN<tspan font-size="6.87" dy="-2.9">sens 2</tspan></text>
<line x1="531" y1="400.52" x2="542" y2="400.52" stroke="#14e014" stroke-width="1.7"/>
<text x="547.1" y="405.82" font-size="7.9" fill="#111">VEN<tspan font-size="6.87" dy="-2.9">sens 3</tspan></text>
<line x1="531" y1="409.63" x2="542" y2="409.63" stroke="#6e9420" stroke-width="1.7"/>
<text x="547.1" y="414.93" font-size="7.9" fill="#111">VEN<tspan font-size="6.87" dy="-2.9">sens 4</tspan></text>
<line x1="531" y1="418.74" x2="542" y2="418.74" stroke="#1c8c64" stroke-width="1.7"/>
<text x="547.1" y="424.04" font-size="7.9" fill="#111">VEN<tspan font-size="6.87" dy="-2.9">sens 5</tspan></text>
<line x1="531" y1="427.85" x2="542" y2="427.85" stroke="#ffd27a" stroke-width="1.7"/>
<text x="547.1" y="433.15" font-size="7.9" fill="#111">VEN<tspan font-size="6.87" dy="-2.9">ins 1</tspan></text>
<line x1="531" y1="436.96" x2="542" y2="436.96" stroke="#ff8c00" stroke-width="1.7"/>
<text x="547.1" y="442.26" font-size="7.9" fill="#111">VEN<tspan font-size="6.87" dy="-2.9">ins 2</tspan></text>
<line x1="531" y1="446.07" x2="542" y2="446.07" stroke="#ff9090" stroke-width="1.7"/>
<text x="547.1" y="451.37" font-size="7.9" fill="#111">VEN<tspan font-size="6.87" dy="-2.9">ins 3</tspan></text>
<line x1="531" y1="455.18" x2="542" y2="455.18" stroke="#ff2a00" stroke-width="1.7"/>
<text x="547.1" y="460.48" font-size="7.9" fill="#111">VEN<tspan font-size="6.87" dy="-2.9">ins 4</tspan></text>
<line x1="531" y1="464.29" x2="542" y2="464.29" stroke="#8b0000" stroke-width="1.7"/>
<text x="547.1" y="469.59" font-size="7.9" fill="#111">VEN<tspan font-size="6.87" dy="-2.9">ins 5</tspan></text>
<line x1="56" y1="637.95" x2="236" y2="637.95" stroke="#000" stroke-width="1.5" stroke-dasharray="4.4,1.6"/>
<polyline points="55.8,697.8 106.3,681.04 108.33,680.08 110.37,679.07 112.4,678.02 114.43,676.92 116.47,675.77 118.5,674.58 120.53,673.33 122.57,672.04 124.6,670.7 126.63,669.31 128.67,667.87 130.7,666.38 132.73,664.84 134.77,663.26 136.8,661.64 138.83,659.97 140.87,658.27 142.9,656.52 144.93,654.74 146.97,652.92 149,651.08 151.03,649.21 153.07,647.31 155.1,645.4 157.13,643.47 159.17,641.53 161.2,639.58 163.23,637.63 165.27,635.67 167.3,633.73 169.33,631.79 171.37,629.86 173.4,627.95 175.43,626.06 177.47,624.2 179.5,622.36 181.53,620.55 183.57,618.78 185.6,617.04 187.63,615.34 189.67,613.68 191.7,612.07 193.73,610.5 195.77,608.98 197.8,607.5 199.83,606.07 201.87,604.69 203.9,603.36 205.93,602.08 207.97,600.84 210,599.66 212.03,598.52 214.07,597.43 216.1,596.39 218.13,595.39 220.17,594.44 222.2,593.53 224.23,592.67 226.27,591.85 228.3,591.06" fill="none" stroke="#33e82a" stroke-width="2" stroke-linejoin="round" stroke-linecap="round"/>
<polyline points="55.8,697.8 106.3,678.07 108.33,676.98 110.37,675.83 112.4,674.64 114.43,673.4 116.47,672.1 118.5,670.76 120.53,669.38 122.57,667.94 124.6,666.45 126.63,664.92 128.67,663.34 130.7,661.72 132.73,660.06 134.77,658.35 136.8,656.61 138.83,654.83 140.87,653.01 142.9,651.17 144.93,649.3 146.97,647.41 149,645.49 151.03,643.56 153.07,641.62 155.1,639.67 157.13,637.72 159.17,635.77 161.2,633.82 163.23,631.88 165.27,629.95 167.3,628.04 169.33,626.15 171.37,624.29 173.4,622.45 175.43,620.64 177.47,618.86 179.5,617.12 181.53,615.42 183.57,613.76 185.6,612.15 187.63,610.58 189.67,609.05 191.7,607.57 193.73,606.14 195.77,604.76 197.8,603.42 199.83,602.14 201.87,600.9 203.9,599.72 205.93,598.58 207.97,597.49 210,596.44 212.03,595.44 214.07,594.49 216.1,593.58 218.13,592.71 220.17,591.89 222.2,591.1 224.23,590.35 226.27,589.65 228.3,588.97" fill="none" stroke="#ffb08a" stroke-width="2" stroke-linejoin="round" stroke-linecap="round"/>
<polyline points="55.8,697.8 106.3,675.46 108.33,674.26 110.37,673 112.4,671.69 114.43,670.34 116.47,668.93 118.5,667.48 120.53,665.98 122.57,664.43 124.6,662.84 126.63,661.21 128.67,659.53 130.7,657.81 132.73,656.06 134.77,654.27 136.8,652.44 138.83,650.59 140.87,648.71 142.9,646.81 144.93,644.89 146.97,642.96 149,641.02 151.03,639.07 153.07,637.11 155.1,635.16 157.13,633.22 159.17,631.28 161.2,629.36 163.23,627.45 165.27,625.57 167.3,623.71 169.33,621.88 171.37,620.08 173.4,618.32 175.43,616.59 177.47,614.9 179.5,613.26 181.53,611.65 183.57,610.1 185.6,608.58 187.63,607.12 189.67,605.7 191.7,604.34 193.73,603.02 195.77,601.75 197.8,600.53 199.83,599.36 201.87,598.23 203.9,597.15 205.93,596.12 207.97,595.14 210,594.2 212.03,593.3 214.07,592.45 216.1,591.64 218.13,590.86 220.17,590.13 222.2,589.43 224.23,588.77 226.27,588.14 228.3,587.55" fill="none" stroke="#ee2a00" stroke-width="2" stroke-linejoin="round" stroke-linecap="round"/>
<polyline points="55.8,697.8 106.3,672.21 108.33,670.88 110.37,669.49 112.4,668.06 114.43,666.58 116.47,665.05 118.5,663.47 120.53,661.85 122.57,660.19 124.6,658.49 126.63,656.75 128.67,654.97 130.7,653.16 132.73,651.32 134.77,649.45 136.8,647.56 138.83,645.65 140.87,643.72 142.9,641.78 144.93,639.83 146.97,637.88 149,635.93 151.03,633.98 153.07,632.04 155.1,630.11 157.13,628.2 159.17,626.31 161.2,624.44 163.23,622.6 165.27,620.79 167.3,619.01 169.33,617.27 171.37,615.56 173.4,613.9 175.43,612.28 177.47,610.7 179.5,609.17 181.53,607.69 183.57,606.26 185.6,604.87 187.63,603.53 189.67,602.24 191.7,601 193.73,599.81 195.77,598.67 197.8,597.57 199.83,596.52 201.87,595.52 203.9,594.56 205.93,593.65 207.97,592.78 210,591.95 212.03,591.16 214.07,590.41 216.1,589.7 218.13,589.03 220.17,588.39 222.2,587.78 224.23,587.2 226.27,586.66 228.3,586.15" fill="none" stroke="#fff2b0" stroke-width="1.6" stroke-linejoin="round" stroke-linecap="round"/>
<polyline points="55.8,697.8 106.3,669.4 108.33,667.96 110.37,666.48 112.4,664.95 114.43,663.37 116.47,661.75 118.5,660.08 120.53,658.38 122.57,656.64 124.6,654.86 126.63,653.04 128.67,651.2 130.7,649.33 132.73,647.44 134.77,645.53 136.8,643.6 138.83,641.66 140.87,639.71 142.9,637.75 144.93,635.8 146.97,633.85 149,631.91 151.03,629.99 153.07,628.07 155.1,626.18 157.13,624.32 159.17,622.48 161.2,620.67 163.23,618.89 165.27,617.15 167.3,615.45 169.33,613.79 171.37,612.17 173.4,610.6 175.43,609.07 177.47,607.59 179.5,606.16 181.53,604.78 183.57,603.44 185.6,602.16 187.63,600.92 189.67,599.73 191.7,598.59 193.73,597.5 195.77,596.46 197.8,595.46 199.83,594.5 201.87,593.59 203.9,592.73 205.93,591.9 207.97,591.11 210,590.37 212.03,589.66 214.07,588.98 216.1,588.35 218.13,587.74 220.17,587.17 222.2,586.63 224.23,586.11 226.27,585.63 228.3,585.17" fill="none" stroke="#ff9000" stroke-width="2" stroke-linejoin="round" stroke-linecap="round"/>
<line x1="56" y1="577.3" x2="56" y2="698.4" stroke="#000" stroke-width="1.4"/>
<line x1="55.4" y1="697.8" x2="236.8" y2="697.8" stroke="#000" stroke-width="1.4"/>
<line x1="50.8" y1="697.8" x2="56" y2="697.8" stroke="#000" stroke-width="1.2"/>
<text x="50.4" y="700.9" font-size="8.6" text-anchor="end" fill="#111">0</text>
<line x1="50.8" y1="673.82" x2="56" y2="673.82" stroke="#000" stroke-width="1.2"/>
<text x="50.4" y="676.92" font-size="8.6" text-anchor="end" fill="#111">20</text>
<line x1="50.8" y1="649.84" x2="56" y2="649.84" stroke="#000" stroke-width="1.2"/>
<text x="50.4" y="652.94" font-size="8.6" text-anchor="end" fill="#111">40</text>
<line x1="50.8" y1="625.86" x2="56" y2="625.86" stroke="#000" stroke-width="1.2"/>
<text x="50.4" y="628.96" font-size="8.6" text-anchor="end" fill="#111">60</text>
<line x1="50.8" y1="601.88" x2="56" y2="601.88" stroke="#000" stroke-width="1.2"/>
<text x="50.4" y="604.98" font-size="8.6" text-anchor="end" fill="#111">80</text>
<line x1="50.8" y1="577.9" x2="56" y2="577.9" stroke="#000" stroke-width="1.2"/>
<text x="50.4" y="581" font-size="8.6" text-anchor="end" fill="#111">100</text>
<line x1="91.9" y1="697.8" x2="91.9" y2="705.6" stroke="#000" stroke-width="1.3"/>
<line x1="128" y1="697.8" x2="128" y2="705.6" stroke="#000" stroke-width="1.3"/>
<line x1="164" y1="697.8" x2="164" y2="705.6" stroke="#000" stroke-width="1.3"/>
<line x1="200.4" y1="697.8" x2="200.4" y2="705.6" stroke="#000" stroke-width="1.3"/>
<line x1="236.6" y1="697.8" x2="236.6" y2="701.5" stroke="#000" stroke-width="1.3"/>
<text x="19.5" y="637.5" font-size="9.7" font-weight="bold" text-anchor="middle" fill="#000" transform="rotate(-90 19.5 637.5)">relative cell death</text>
<text x="30.3" y="637.5" font-size="9.7" font-weight="bold" text-anchor="middle" fill="#000" transform="rotate(-90 30.3 637.5)">FSC/SSC [%]</text>
<rect x="69.8" y="705.6" width="149.8" height="15" fill="none" stroke="#000" stroke-width="1.3"/>
<rect x="5.8" y="720.6" width="213.8" height="45" fill="none" stroke="#000" stroke-width="1.3"/>
<line x1="107" y1="705.6" x2="107" y2="765.6" stroke="#000" stroke-width="1.3"/>
<line x1="145.4" y1="705.6" x2="145.4" y2="765.6" stroke="#000" stroke-width="1.3"/>
<line x1="182.9" y1="705.6" x2="182.9" y2="765.6" stroke="#000" stroke-width="1.3"/>
<line x1="69.8" y1="720.6" x2="69.8" y2="765.6" stroke="#000" stroke-width="1.3"/>
<line x1="32.2" y1="720.6" x2="32.2" y2="765.6" stroke="#000" stroke-width="1.3"/>
<line x1="32.2" y1="735.8" x2="219.6" y2="735.8" stroke="#000" stroke-width="1.3"/>
<line x1="32.2" y1="750.8" x2="219.6" y2="750.8" stroke="#000" stroke-width="1.3"/>
<text x="90" y="715.9" font-size="6.6" font-weight="bold" text-anchor="middle" fill="#000">1</text>
<text x="127.9" y="715.9" font-size="6.6" font-weight="bold" text-anchor="middle" fill="#000">2</text>
<text x="164.5" y="715.9" font-size="6.6" font-weight="bold" text-anchor="middle" fill="#000">3</text>
<text x="201.6" y="715.9" font-size="6.6" font-weight="bold" text-anchor="middle" fill="#000">4</text>
<text x="51" y="730.8" font-size="7" font-weight="bold" text-anchor="middle" fill="#000">VCR</text>
<text x="88.3" y="730.8" font-size="7.2" text-anchor="middle" fill="#111">0,5 ng/ml</text>
<text x="126.2" y="730.8" font-size="7.2" text-anchor="middle" fill="#111">2,5 ng/ml</text>
<text x="164.15" y="730.8" font-size="7.2" text-anchor="middle" fill="#111">5 ng/ml</text>
<text x="201.25" y="730.8" font-size="7.2" text-anchor="middle" fill="#111">25 ng/ml</text>
<text x="51" y="745.6" font-size="7" font-weight="bold" text-anchor="middle" fill="#000">Dexa</text>
<text x="88.3" y="745.6" font-size="7.2" text-anchor="middle" fill="#111">5 ng/ml</text>
<text x="126.2" y="745.6" font-size="7.2" text-anchor="middle" fill="#111">25 ng/ml</text>
<text x="164.15" y="745.6" font-size="7.2" text-anchor="middle" fill="#111">50 ng/ml</text>
<text x="201.25" y="745.6" font-size="7.2" text-anchor="middle" fill="#111">250 ng/ml</text>
<text x="51" y="760.9" font-size="7" font-weight="bold" text-anchor="middle" fill="#000">ASP</text>
<text x="88.3" y="760.9" font-size="7.2" text-anchor="middle" fill="#111">0,5 ng/ml</text>
<text x="126.2" y="760.9" font-size="7.2" text-anchor="middle" fill="#111">2,5 ng/ml</text>
<text x="164.15" y="760.9" font-size="7.2" text-anchor="middle" fill="#111">5ng/ml</text>
<text x="201.25" y="760.9" font-size="7.2" text-anchor="middle" fill="#111">25 ng/ml</text>
<text x="18.8" y="735.8" font-size="7.9" font-weight="bold" text-anchor="middle" fill="#000">V</text>
<text x="18.8" y="745.5" font-size="7.9" font-weight="bold" text-anchor="middle" fill="#000">D</text>
<text x="18.8" y="756.8" font-size="7.9" font-weight="bold" text-anchor="middle" fill="#000">A</text>
<line x1="349.2" y1="639.05" x2="527.5" y2="639.05" stroke="#000" stroke-width="1.5" stroke-dasharray="4.4,1.6"/>
<polyline points="349.2,697.45 351.43,697.39 353.66,697.32 355.89,697.24 358.12,697.15 360.36,697.06 362.59,696.95 364.82,696.83 367.05,696.7 369.28,696.55 371.51,696.38 373.74,696.2 375.98,695.99 378.21,695.77 380.44,695.51 382.67,695.23 384.9,694.92 387.13,694.57 389.36,694.19 391.59,693.77 393.82,693.3 396.06,692.78 398.29,692.2 400.52,691.57 402.75,690.87 404.98,690.1 407.21,689.26 409.44,688.33 411.68,687.31 413.91,686.2 416.14,684.99 418.37,683.67 420.6,682.23 422.83,680.68 425.06,679 427.29,677.19 429.53,675.25 431.76,673.17 433.99,670.96 436.22,668.61 438.45,666.13 440.68,663.52 442.91,660.79 445.14,657.95 447.38,655 449.61,651.97 451.84,648.87 454.07,645.7 456.3,642.5 458.53,639.27 460.76,636.05 462.99,632.84 465.23,629.66 467.46,626.54 469.69,623.49 471.92,620.53 474.15,617.67 476.38,614.92 478.61,612.28 480.84,609.78 483.08,607.4 485.31,605.16 487.54,603.06 489.77,601.09 492,599.25 494.23,597.55 496.46,595.97 498.69,594.51 500.93,593.17 503.16,591.93 505.39,590.8 507.62,589.77 509.85,588.82 512.08,587.96 514.31,587.18 516.54,586.46 518.78,585.82 521.01,585.23 523.24,584.7 525.47,584.22 527.7,583.79" fill="none" stroke="#ffd27a" stroke-width="2.3" stroke-linejoin="round" stroke-linecap="round"/>
<polyline points="349.2,697.43 351.43,697.37 353.66,697.3 355.89,697.22 358.12,697.13 360.36,697.03 362.59,696.92 364.82,696.79 367.05,696.65 369.28,696.5 371.51,696.33 373.74,696.14 375.98,695.93 378.21,695.69 380.44,695.43 382.67,695.14 384.9,694.82 387.13,694.46 389.36,694.07 391.59,693.63 393.82,693.15 396.06,692.61 398.29,692.02 400.52,691.37 402.75,690.65 404.98,689.86 407.21,688.99 409.44,688.04 411.68,686.99 413.91,685.85 416.14,684.6 418.37,683.25 420.6,681.78 422.83,680.19 425.06,678.47 427.29,676.62 429.53,674.64 431.76,672.52 433.99,670.27 436.22,667.88 438.45,665.36 440.68,662.71 442.91,659.95 445.14,657.08 447.38,654.1 449.61,651.05 451.84,647.92 454.07,644.74 456.3,641.53 458.53,638.3 460.76,635.08 462.99,631.88 465.23,628.72 467.46,625.62 469.69,622.6 471.92,619.66 474.15,616.83 476.38,614.11 478.61,611.52 480.84,609.05 483.08,606.72 485.31,604.52 487.54,602.45 489.77,600.52 492,598.73 494.23,597.06 496.46,595.52 498.69,594.1 500.93,592.78 503.16,591.58 505.39,590.48 507.62,589.47 509.85,588.55 512.08,587.72 514.31,586.96 516.54,586.26 518.78,585.64 521.01,585.07 523.24,584.55 525.47,584.09 527.7,583.67" fill="none" stroke="#cdf55a" stroke-width="2.3" stroke-linejoin="round" stroke-linecap="round"/>
<polyline points="349.2,697.41 351.43,697.34 353.66,697.27 355.89,697.18 358.12,697.09 360.36,696.98 362.59,696.87 364.82,696.74 367.05,696.59 369.28,696.43 371.51,696.26 373.74,696.06 375.98,695.84 378.21,695.59 380.44,695.32 382.67,695.02 384.9,694.68 387.13,694.31 389.36,693.9 391.59,693.44 393.82,692.94 396.06,692.38 398.29,691.77 400.52,691.09 402.75,690.34 404.98,689.52 407.21,688.62 409.44,687.63 411.68,686.55 413.91,685.36 416.14,684.08 418.37,682.68 420.6,681.16 422.83,679.51 425.06,677.74 427.29,675.84 429.53,673.81 431.76,671.63 433.99,669.33 436.22,666.89 438.45,664.32 440.68,661.62 442.91,658.81 445.14,655.9 447.38,652.89 449.61,649.8 451.84,646.66 454.07,643.46 456.3,640.24 458.53,637.01 460.76,633.8 462.99,630.61 465.23,627.47 467.46,624.4 469.69,621.41 471.92,618.52 474.15,615.73 476.38,613.06 478.61,610.51 480.84,608.1 483.08,605.82 485.31,603.68 487.54,601.67 489.77,599.79 492,598.05 494.23,596.43 496.46,594.94 498.69,593.56 500.93,592.29 503.16,591.13 505.39,590.07 507.62,589.09 509.85,588.21 512.08,587.4 514.31,586.67 516.54,586.01 518.78,585.4 521.01,584.86 523.24,584.36 525.47,583.92 527.7,583.51" fill="none" stroke="#86ec86" stroke-width="2.3" stroke-linejoin="round" stroke-linecap="round"/>
<polyline points="349.2,697.39 351.43,697.32 353.66,697.24 355.89,697.16 358.12,697.06 360.36,696.95 362.59,696.83 364.82,696.7 367.05,696.55 369.28,696.39 371.51,696.2 373.74,696 375.98,695.77 378.21,695.52 380.44,695.24 382.67,694.93 384.9,694.58 387.13,694.2 389.36,693.78 391.59,693.31 393.82,692.79 396.06,692.22 398.29,691.58 400.52,690.89 402.75,690.12 404.98,689.28 407.21,688.35 409.44,687.34 411.68,686.23 413.91,685.01 416.14,683.7 418.37,682.26 420.6,680.71 422.83,679.03 425.06,677.23 427.29,675.29 429.53,673.21 431.76,671 433.99,668.66 436.22,666.18 438.45,663.57 440.68,660.85 442.91,658.01 445.14,655.06 447.38,652.03 449.61,648.93 451.84,645.77 454.07,642.56 456.3,639.34 458.53,636.11 460.76,632.9 462.99,629.73 465.23,626.61 467.46,623.56 469.69,620.59 471.92,617.73 474.15,614.97 476.38,612.33 478.61,609.83 480.84,607.45 483.08,605.21 485.31,603.1 487.54,601.13 489.77,599.29 492,597.58 494.23,596 496.46,594.54 498.69,593.19 500.93,591.96 503.16,590.82 505.39,589.79 507.62,588.84 509.85,587.98 512.08,587.19 514.31,586.48 516.54,585.83 518.78,585.24 521.01,584.71 523.24,584.23 525.47,583.8 527.7,583.41" fill="none" stroke="#14e014" stroke-width="2.3" stroke-linejoin="round" stroke-linecap="round"/>
<polyline points="349.2,697.3 351.43,697.22 353.66,697.13 355.89,697.03 358.12,696.92 360.36,696.8 362.59,696.66 364.82,696.51 367.05,696.34 369.28,696.15 371.51,695.94 373.74,695.71 375.98,695.45 378.21,695.16 380.44,694.84 382.67,694.49 384.9,694.09 387.13,693.66 389.36,693.18 391.59,692.65 393.82,692.06 396.06,691.41 398.29,690.69 400.52,689.91 402.75,689.04 404.98,688.09 407.21,687.06 409.44,685.92 411.68,684.68 413.91,683.33 416.14,681.87 418.37,680.29 420.6,678.58 422.83,676.73 425.06,674.76 427.29,672.65 429.53,670.41 431.76,668.03 433.99,665.51 436.22,662.88 438.45,660.12 440.68,657.25 442.91,654.28 445.14,651.23 447.38,648.11 449.61,644.94 451.84,641.73 454.07,638.5 456.3,635.27 458.53,632.07 460.76,628.91 462.99,625.8 465.23,622.78 467.46,619.84 469.69,617 471.92,614.27 474.15,611.67 476.38,609.19 478.61,606.85 480.84,604.65 483.08,602.57 485.31,600.64 487.54,598.83 489.77,597.16 492,595.61 494.23,594.18 496.46,592.86 498.69,591.65 500.93,590.54 503.16,589.53 505.39,588.61 507.62,587.76 509.85,587 512.08,586.3 514.31,585.67 516.54,585.1 518.78,584.58 521.01,584.12 523.24,583.69 525.47,583.31 527.7,582.97" fill="none" stroke="#ff8c00" stroke-width="2.3" stroke-linejoin="round" stroke-linecap="round"/>
<polyline points="349.2,697.2 351.43,697.11 353.66,697.01 355.89,696.89 358.12,696.77 360.36,696.63 362.59,696.47 364.82,696.3 367.05,696.1 369.28,695.89 371.51,695.65 373.74,695.38 375.98,695.09 378.21,694.76 380.44,694.4 382.67,693.99 384.9,693.55 387.13,693.05 389.36,692.51 391.59,691.91 393.82,691.24 396.06,690.51 398.29,689.71 400.52,688.82 402.75,687.85 404.98,686.79 407.21,685.63 409.44,684.37 411.68,682.99 413.91,681.5 416.14,679.89 418.37,678.15 420.6,676.27 422.83,674.27 425.06,672.12 427.29,669.85 429.53,667.43 431.76,664.89 433.99,662.22 436.22,659.44 438.45,656.55 440.68,653.56 442.91,650.49 445.14,647.35 447.38,644.17 449.61,640.95 451.84,637.72 454.07,634.5 456.3,631.31 458.53,628.16 460.76,625.07 462.99,622.06 465.23,619.14 467.46,616.33 469.69,613.64 471.92,611.06 474.15,608.62 476.38,606.31 478.61,604.14 480.84,602.1 483.08,600.19 485.31,598.42 487.54,596.77 489.77,595.25 492,593.85 494.23,592.56 496.46,591.38 498.69,590.29 500.93,589.3 503.16,588.4 505.39,587.57 507.62,586.83 509.85,586.15 512.08,585.53 514.31,584.97 516.54,584.47 518.78,584.01 521.01,583.6 523.24,583.23 525.47,582.89 527.7,582.59" fill="none" stroke="#8b0000" stroke-width="2.3" stroke-linejoin="round" stroke-linecap="round"/>
<polyline points="349.2,697.15 351.43,697.05 353.66,696.94 355.89,696.82 358.12,696.68 360.36,696.53 362.59,696.36 364.82,696.18 367.05,695.97 369.28,695.74 371.51,695.49 373.74,695.2 375.98,694.89 378.21,694.54 380.44,694.15 382.67,693.72 384.9,693.25 387.13,692.72 389.36,692.14 391.59,691.5 393.82,690.8 396.06,690.02 398.29,689.17 400.52,688.23 402.75,687.21 404.98,686.09 407.21,684.86 409.44,683.53 411.68,682.08 413.91,680.52 416.14,678.82 418.37,677 420.6,675.04 422.83,672.95 425.06,670.73 427.29,668.37 429.53,665.87 431.76,663.25 433.99,660.51 436.22,657.66 438.45,654.71 440.68,651.66 442.91,648.55 445.14,645.38 447.38,642.18 449.61,638.95 451.84,635.72 454.07,632.52 456.3,629.35 458.53,626.24 460.76,623.19 462.99,620.24 465.23,617.39 467.46,614.65 469.69,612.03 471.92,609.53 474.15,607.17 476.38,604.95 478.61,602.86 480.84,600.9 483.08,599.08 485.31,597.38 487.54,595.82 489.77,594.37 492,593.04 494.23,591.81 496.46,590.69 498.69,589.67 500.93,588.73 503.16,587.88 505.39,587.1 507.62,586.4 509.85,585.76 512.08,585.18 514.31,584.65 516.54,584.18 518.78,583.75 521.01,583.36 523.24,583.01 525.47,582.7 527.7,582.41" fill="none" stroke="#ff2a00" stroke-width="2.3" stroke-linejoin="round" stroke-linecap="round"/>
<polyline points="349.2,697.05 351.43,696.94 353.66,696.82 355.89,696.68 358.12,696.53 360.36,696.36 362.59,696.18 364.82,695.97 367.05,695.74 369.28,695.49 371.51,695.2 373.74,694.89 375.98,694.54 378.21,694.15 380.44,693.72 382.67,693.25 384.9,692.72 387.13,692.14 389.36,691.5 391.59,690.8 393.82,690.02 396.06,689.17 398.29,688.23 400.52,687.21 402.75,686.09 404.98,684.86 407.21,683.53 409.44,682.08 411.68,680.52 413.91,678.82 416.14,677 418.37,675.04 420.6,672.95 422.83,670.73 425.06,668.37 427.29,665.87 429.53,663.25 431.76,660.51 433.99,657.66 436.22,654.71 438.45,651.66 440.68,648.55 442.91,645.38 445.14,642.18 447.38,638.95 449.61,635.72 451.84,632.52 454.07,629.35 456.3,626.24 458.53,623.19 460.76,620.24 462.99,617.39 465.23,614.65 467.46,612.03 469.69,609.53 471.92,607.17 474.15,604.95 476.38,602.86 478.61,600.9 480.84,599.08 483.08,597.38 485.31,595.82 487.54,594.37 489.77,593.04 492,591.81 494.23,590.69 496.46,589.67 498.69,588.73 500.93,587.88 503.16,587.1 505.39,586.4 507.62,585.76 509.85,585.18 512.08,584.65 514.31,584.18 516.54,583.75 518.78,583.36 521.01,583.01 523.24,582.7 525.47,582.41 527.7,582.16" fill="none" stroke="#6e9420" stroke-width="2.3" stroke-linejoin="round" stroke-linecap="round"/>
<polyline points="349.2,697.08 351.43,696.98 353.66,696.86 355.89,696.73 358.12,696.59 360.36,696.43 362.59,696.25 364.82,696.05 367.05,695.83 369.28,695.58 371.51,695.31 373.74,695 375.98,694.67 378.21,694.29 380.44,693.88 382.67,693.42 384.9,692.92 387.13,692.36 389.36,691.74 391.59,691.06 393.82,690.31 396.06,689.49 398.29,688.58 400.52,687.59 402.75,686.5 404.98,685.31 407.21,684.02 409.44,682.62 411.68,681.09 413.91,679.45 416.14,677.67 418.37,675.76 420.6,673.72 422.83,671.54 425.06,669.23 427.29,666.79 429.53,664.21 431.76,661.51 433.99,658.7 436.22,655.78 438.45,652.77 440.68,649.68 442.91,646.53 445.14,643.33 447.38,640.11 449.61,636.88 451.84,633.67 454.07,630.48 456.3,627.35 458.53,624.28 460.76,621.29 462.99,618.4 465.23,615.62 467.46,612.96 469.69,610.42 471.92,608.01 474.15,605.73 476.38,603.59 478.61,601.59 480.84,599.72 483.08,597.98 485.31,596.37 487.54,594.88 489.77,593.5 492,592.24 494.23,591.09 496.46,590.03 498.69,589.06 500.93,588.18 503.16,587.37 505.39,586.64 507.62,585.98 509.85,585.38 512.08,584.84 514.31,584.34 516.54,583.9 518.78,583.5 521.01,583.13 523.24,582.81 525.47,582.51 527.7,582.25" fill="none" stroke="#ff9090" stroke-width="2.3" stroke-linejoin="round" stroke-linecap="round"/>
<polyline points="349.2,696.95 351.43,696.83 353.66,696.7 355.89,696.55 358.12,696.38 360.36,696.2 362.59,695.99 364.82,695.77 367.05,695.51 369.28,695.23 371.51,694.92 373.74,694.57 375.98,694.19 378.21,693.77 380.44,693.3 382.67,692.78 384.9,692.2 387.13,691.57 389.36,690.87 391.59,690.1 393.82,689.26 396.06,688.33 398.29,687.31 400.52,686.2 402.75,684.99 404.98,683.67 407.21,682.23 409.44,680.68 411.68,679 413.91,677.19 416.14,675.25 418.37,673.17 420.6,670.96 422.83,668.61 425.06,666.13 427.29,663.52 429.53,660.79 431.76,657.95 433.99,655 436.22,651.97 438.45,648.87 440.68,645.7 442.91,642.5 445.14,639.27 447.38,636.05 449.61,632.84 451.84,629.66 454.07,626.54 456.3,623.49 458.53,620.53 460.76,617.67 462.99,614.92 465.23,612.28 467.46,609.78 469.69,607.4 471.92,605.16 474.15,603.06 476.38,601.09 478.61,599.25 480.84,597.55 483.08,595.97 485.31,594.51 487.54,593.17 489.77,591.93 492,590.8 494.23,589.77 496.46,588.82 498.69,587.96 500.93,587.18 503.16,586.46 505.39,585.82 507.62,585.23 509.85,584.7 512.08,584.22 514.31,583.79 516.54,583.4 518.78,583.05 521.01,582.73 523.24,582.44 525.47,582.18 527.7,581.95" fill="none" stroke="#1c8c64" stroke-width="2.3" stroke-linejoin="round" stroke-linecap="round"/>
<line x1="349.2" y1="579.3" x2="349.2" y2="698.6" stroke="#000" stroke-width="1.3"/>
<line x1="346.2" y1="698" x2="349.2" y2="698" stroke="#000" stroke-width="1.1"/>
<text x="344.6" y="701.1" font-size="9.1" text-anchor="end" fill="#111">0</text>
<line x1="346.2" y1="674.38" x2="349.2" y2="674.38" stroke="#000" stroke-width="1.1"/>
<text x="344.6" y="677.48" font-size="9.1" text-anchor="end" fill="#111">20</text>
<line x1="346.2" y1="650.76" x2="349.2" y2="650.76" stroke="#000" stroke-width="1.1"/>
<text x="344.6" y="653.86" font-size="9.1" text-anchor="end" fill="#111">40</text>
<line x1="346.2" y1="627.14" x2="349.2" y2="627.14" stroke="#000" stroke-width="1.1"/>
<text x="344.6" y="630.24" font-size="9.1" text-anchor="end" fill="#111">60</text>
<line x1="346.2" y1="603.52" x2="349.2" y2="603.52" stroke="#000" stroke-width="1.1"/>
<text x="344.6" y="606.62" font-size="9.1" text-anchor="end" fill="#111">80</text>
<line x1="346.2" y1="579.9" x2="349.2" y2="579.9" stroke="#000" stroke-width="1.1"/>
<text x="344.6" y="583" font-size="9.1" text-anchor="end" fill="#111">100</text>
<line x1="348.6" y1="698" x2="528" y2="698" stroke="#000" stroke-width="1.3"/>
<line x1="349.2" y1="698" x2="349.2" y2="700.6" stroke="#000" stroke-width="1.1"/>
<text x="349.2" y="712.8" font-size="9.1" fill="#111" text-anchor="middle">10<tspan font-size="6.2" dy="-3">-1</tspan></text>
<line x1="393.82" y1="698" x2="393.82" y2="700.6" stroke="#000" stroke-width="1.1"/>
<text x="393.82" y="712.8" font-size="9.1" fill="#111" text-anchor="middle">10<tspan font-size="6.2" dy="-3">0</tspan></text>
<line x1="438.45" y1="698" x2="438.45" y2="700.6" stroke="#000" stroke-width="1.1"/>
<text x="438.45" y="712.8" font-size="9.1" fill="#111" text-anchor="middle">10<tspan font-size="6.2" dy="-3">1</tspan></text>
<line x1="483.08" y1="698" x2="483.08" y2="700.6" stroke="#000" stroke-width="1.1"/>
<text x="483.08" y="712.8" font-size="9.1" fill="#111" text-anchor="middle">10<tspan font-size="6.2" dy="-3">2</tspan></text>
<line x1="527.7" y1="698" x2="527.7" y2="700.6" stroke="#000" stroke-width="1.1"/>
<text x="527.7" y="712.8" font-size="9.1" fill="#111" text-anchor="middle">10<tspan font-size="6.2" dy="-3">3</tspan></text>
<text x="438.2" y="724" font-size="9.55" font-weight="bold" text-anchor="middle" fill="#000">Daunorubicin [ng/ml, 72h]</text>
<text x="312.4" y="642.4" font-size="9.4" font-weight="bold" text-anchor="middle" fill="#000" transform="rotate(-90 312.4 642.4)">relative cell death</text>
<text x="322.8" y="641.6" font-size="9.4" font-weight="bold" text-anchor="middle" fill="#000" transform="rotate(-90 322.8 641.6)">FSC/SSC [%]</text>
<line x1="550.5" y1="606.8" x2="561.8" y2="606.8" stroke="#cdf55a" stroke-width="1.6"/>
<text x="566.8" y="611.8" font-size="7.5" fill="#111">VEN<tspan font-size="6.53" dy="-2.9">sens 5</tspan></text>
<line x1="550.5" y1="615.95" x2="561.8" y2="615.95" stroke="#86ec86" stroke-width="1.6"/>
<text x="566.8" y="620.95" font-size="7.5" fill="#111">VEN<tspan font-size="6.53" dy="-2.9">sens 4</tspan></text>
<line x1="550.5" y1="625.1" x2="561.8" y2="625.1" stroke="#14e014" stroke-width="1.6"/>
<text x="566.8" y="630.1" font-size="7.5" fill="#111">VEN<tspan font-size="6.53" dy="-2.9">sens 3</tspan></text>
<line x1="550.5" y1="634.25" x2="561.8" y2="634.25" stroke="#6e9420" stroke-width="1.6"/>
<text x="566.8" y="639.25" font-size="7.5" fill="#111">VEN<tspan font-size="6.53" dy="-2.9">sens 2</tspan></text>
<line x1="550.5" y1="643.4" x2="561.8" y2="643.4" stroke="#1c8c64" stroke-width="1.6"/>
<text x="566.8" y="648.4" font-size="7.5" fill="#111">VEN<tspan font-size="6.53" dy="-2.9">sens 1</tspan></text>
<line x1="550.5" y1="652.55" x2="561.8" y2="652.55" stroke="#ffd27a" stroke-width="1.6"/>
<text x="566.8" y="657.55" font-size="7.5" fill="#111">VEN<tspan font-size="6.53" dy="-2.9">ins 1</tspan></text>
<line x1="550.5" y1="661.7" x2="561.8" y2="661.7" stroke="#ff8c00" stroke-width="1.6"/>
<text x="566.8" y="666.7" font-size="7.5" fill="#111">VEN<tspan font-size="6.53" dy="-2.9">ins 2</tspan></text>
<line x1="550.5" y1="670.85" x2="561.8" y2="670.85" stroke="#ff9090" stroke-width="1.6"/>
<text x="566.8" y="675.85" font-size="7.5" fill="#111">VEN<tspan font-size="6.53" dy="-2.9">ins 3</tspan></text>
<line x1="550.5" y1="680" x2="561.8" y2="680" stroke="#ff2a00" stroke-width="1.6"/>
<text x="566.8" y="685" font-size="7.5" fill="#111">VEN<tspan font-size="6.53" dy="-2.9">ins 4</tspan></text>
<line x1="550.5" y1="689.15" x2="561.8" y2="689.15" stroke="#8b0000" stroke-width="1.6"/>
<text x="566.8" y="694.15" font-size="7.5" fill="#111">VEN<tspan font-size="6.53" dy="-2.9">ins 5</tspan></text>
<line x1="55.3" y1="912.45" x2="228.4" y2="912.45" stroke="#000" stroke-width="1.5" stroke-dasharray="4.4,1.6"/>
<polyline points="55.3,968.24 57.38,968.17 59.46,968.08 61.54,967.99 63.61,967.9 65.69,967.8 67.77,967.69 69.85,967.58 71.93,967.46 74.01,967.33 76.09,967.19 78.17,967.04 80.25,966.88 82.32,966.71 84.4,966.53 86.48,966.34 88.56,966.14 90.64,965.92 92.72,965.69 94.8,965.44 96.88,965.18 98.95,964.9 101.03,964.61 103.11,964.29 105.19,963.96 107.27,963.6 109.35,963.22 111.43,962.82 113.5,962.4 115.58,961.95 117.66,961.47 119.74,960.96 121.82,960.42 123.9,959.86 125.98,959.26 128.06,958.62 130.13,957.95 132.21,957.24 134.29,956.5 136.37,955.71 138.45,954.89 140.53,954.02 142.61,953.11 144.69,952.15 146.76,951.15 148.84,950.1 150.92,949.01 153,947.86 155.08,946.67 157.16,945.43 159.24,944.14 161.32,942.79 163.4,941.4 165.47,939.97 167.55,938.48 169.63,936.95 171.71,935.37 173.79,933.75 175.87,932.09 177.95,930.39 180.03,928.65 182.1,926.88 184.18,925.08 186.26,923.25 188.34,921.4 190.42,919.53 192.5,917.64 194.58,915.74 196.65,913.83 198.73,911.92 200.81,910.01 202.89,908.1 204.97,906.2 207.05,904.32 209.13,902.45 211.21,900.61 213.29,898.79 215.36,897 217.44,895.24 219.52,893.51 221.6,891.83" fill="none" stroke="#ffd27a" stroke-width="1.6" stroke-linejoin="round" stroke-linecap="round"/>
<polyline points="55.3,967.96 57.38,967.87 59.46,967.76 61.54,967.66 63.61,967.54 65.69,967.41 67.77,967.28 69.85,967.14 71.93,966.99 74.01,966.83 76.09,966.65 78.17,966.47 80.25,966.28 82.32,966.07 84.4,965.85 86.48,965.61 88.56,965.36 90.64,965.09 92.72,964.81 94.8,964.5 96.88,964.18 98.95,963.84 101.03,963.48 103.11,963.09 105.19,962.68 107.27,962.25 109.35,961.79 111.43,961.3 113.5,960.78 115.58,960.24 117.66,959.66 119.74,959.05 121.82,958.4 123.9,957.72 125.98,957 128.06,956.24 130.13,955.44 132.21,954.6 134.29,953.72 136.37,952.79 138.45,951.82 140.53,950.8 142.61,949.74 144.69,948.63 146.76,947.47 148.84,946.26 150.92,945 153,943.69 155.08,942.33 157.16,940.93 159.24,939.47 161.32,937.97 163.4,936.42 165.47,934.83 167.55,933.2 169.63,931.52 171.71,929.81 173.79,928.06 175.87,926.28 177.95,924.47 180.03,922.63 182.1,920.77 184.18,918.89 186.26,917 188.34,915.1 190.42,913.19 192.5,911.28 194.58,909.37 196.65,907.46 198.73,905.57 200.81,903.69 202.89,901.83 204.97,899.99 207.05,898.18 209.13,896.4 211.21,894.65 213.29,892.94 215.36,891.27 217.44,889.63 219.52,888.04 221.6,886.49" fill="none" stroke="#ff8c00" stroke-width="1.9" stroke-linejoin="round" stroke-linecap="round"/>
<polyline points="55.3,967.61 57.38,967.49 59.46,967.37 61.54,967.23 63.61,967.08 65.69,966.93 67.77,966.76 69.85,966.59 71.93,966.4 74.01,966.2 76.09,965.99 78.17,965.76 80.25,965.52 82.32,965.26 84.4,964.99 86.48,964.7 88.56,964.39 90.64,964.06 92.72,963.71 94.8,963.34 96.88,962.94 98.95,962.52 101.03,962.08 103.11,961.61 105.19,961.11 107.27,960.58 109.35,960.03 111.43,959.43 113.5,958.81 115.58,958.15 117.66,957.46 119.74,956.72 121.82,955.95 123.9,955.14 125.98,954.28 128.06,953.38 130.13,952.44 132.21,951.45 134.29,950.42 136.37,949.33 138.45,948.2 140.53,947.02 142.61,945.8 144.69,944.52 146.76,943.19 148.84,941.82 150.92,940.39 153,938.92 155.08,937.4 157.16,935.84 159.24,934.23 161.32,932.58 163.4,930.89 165.47,929.17 167.55,927.41 169.63,925.61 171.71,923.79 173.79,921.95 175.87,920.08 177.95,918.2 180.03,916.3 182.1,914.39 184.18,912.48 186.26,910.57 188.34,908.66 190.42,906.76 192.5,904.87 194.58,903 196.65,901.15 198.73,899.32 200.81,897.52 202.89,895.75 204.97,894.02 207.05,892.32 209.13,890.66 211.21,889.04 213.29,887.46 215.36,885.93 217.44,884.45 219.52,883.01 221.6,881.63" fill="none" stroke="#ff9090" stroke-width="1.8" stroke-linejoin="round" stroke-linecap="round"/>
<polyline points="55.3,967.34 57.38,967.2 59.46,967.05 61.54,966.9 63.61,966.73 65.69,966.55 67.77,966.36 69.85,966.16 71.93,965.94 74.01,965.71 76.09,965.47 78.17,965.21 80.25,964.93 82.32,964.64 84.4,964.32 86.48,963.99 88.56,963.64 90.64,963.26 92.72,962.86 94.8,962.44 96.88,961.99 98.95,961.51 101.03,961.01 103.11,960.47 105.19,959.91 107.27,959.31 109.35,958.68 111.43,958.01 113.5,957.31 115.58,956.57 117.66,955.79 119.74,954.97 121.82,954.1 123.9,953.19 125.98,952.24 128.06,951.24 130.13,950.2 132.21,949.11 134.29,947.97 136.37,946.78 138.45,945.54 140.53,944.26 142.61,942.92 144.69,941.53 146.76,940.1 148.84,938.62 150.92,937.09 153,935.52 155.08,933.9 157.16,932.24 159.24,930.55 161.32,928.81 163.4,927.05 165.47,925.25 167.55,923.42 169.63,921.57 171.71,919.7 173.79,917.81 175.87,915.91 177.95,914.01 180.03,912.09 182.1,910.18 184.18,908.28 186.26,906.38 188.34,904.49 190.42,902.62 192.5,900.78 194.58,898.95 196.65,897.16 198.73,895.4 200.81,893.67 202.89,891.98 204.97,890.33 207.05,888.72 209.13,887.15 211.21,885.63 213.29,884.15 215.36,882.73 217.44,881.35 219.52,880.02 221.6,878.74" fill="none" stroke="#ff2a00" stroke-width="1.9" stroke-linejoin="round" stroke-linecap="round"/>
<polyline points="55.3,967.02 57.38,966.86 59.46,966.69 61.54,966.51 63.61,966.32 65.69,966.12 67.77,965.9 69.85,965.66 71.93,965.42 74.01,965.15 76.09,964.87 78.17,964.57 80.25,964.26 82.32,963.92 84.4,963.56 86.48,963.18 88.56,962.78 90.64,962.35 92.72,961.89 94.8,961.41 96.88,960.9 98.95,960.36 101.03,959.79 103.11,959.19 105.19,958.55 107.27,957.87 109.35,957.16 111.43,956.41 113.5,955.63 115.58,954.79 117.66,953.92 119.74,953.01 121.82,952.04 123.9,951.04 125.98,949.98 128.06,948.88 130.13,947.73 132.21,946.53 134.29,945.29 136.37,943.99 138.45,942.64 140.53,941.25 142.61,939.8 144.69,938.31 146.76,936.78 148.84,935.2 150.92,933.57 153,931.9 155.08,930.2 157.16,928.46 159.24,926.68 161.32,924.88 163.4,923.05 165.47,921.19 167.55,919.32 169.63,917.43 171.71,915.53 173.79,913.62 175.87,911.71 177.95,909.8 180.03,907.89 182.1,905.99 184.18,904.11 186.26,902.25 188.34,900.41 190.42,898.59 192.5,896.8 194.58,895.04 196.65,893.32 198.73,891.64 200.81,890 202.89,888.4 204.97,886.84 207.05,885.33 209.13,883.86 211.21,882.45 213.29,881.08 215.36,879.76 217.44,878.49 219.52,877.27 221.6,876.1" fill="none" stroke="#6e9420" stroke-width="1.2" stroke-linejoin="round" stroke-linecap="round"/>
<polyline points="55.3,966.97 57.38,966.81 59.46,966.63 61.54,966.45 63.61,966.25 65.69,966.04 67.77,965.82 69.85,965.58 71.93,965.33 74.01,965.06 76.09,964.77 78.17,964.47 80.25,964.15 82.32,963.8 84.4,963.44 86.48,963.05 88.56,962.64 90.64,962.2 92.72,961.74 94.8,961.25 96.88,960.73 98.95,960.18 101.03,959.59 103.11,958.98 105.19,958.33 107.27,957.64 109.35,956.92 111.43,956.16 113.5,955.35 115.58,954.51 117.66,953.62 119.74,952.69 121.82,951.71 123.9,950.69 125.98,949.62 128.06,948.5 130.13,947.34 132.21,946.12 134.29,944.86 136.37,943.55 138.45,942.18 140.53,940.77 142.61,939.31 144.69,937.81 146.76,936.25 148.84,934.66 150.92,933.02 153,931.34 155.08,929.62 157.16,927.87 159.24,926.09 161.32,924.27 163.4,922.43 165.47,920.57 167.55,918.69 169.63,916.8 171.71,914.89 173.79,912.98 175.87,911.07 177.95,909.16 180.03,907.26 182.1,905.37 184.18,903.49 186.26,901.63 188.34,899.8 190.42,897.99 192.5,896.21 194.58,894.47 196.65,892.76 198.73,891.09 200.81,889.46 202.89,887.87 204.97,886.33 207.05,884.83 209.13,883.38 211.21,881.98 213.29,880.63 215.36,879.33 217.44,878.08 219.52,876.87 221.6,875.72" fill="none" stroke="#cdf55a" stroke-width="1.2" stroke-linejoin="round" stroke-linecap="round"/>
<polyline points="55.3,966.97 57.38,966.81 59.46,966.63 61.54,966.45 63.61,966.25 65.69,966.04 67.77,965.82 69.85,965.58 71.93,965.33 74.01,965.06 76.09,964.77 78.17,964.47 80.25,964.15 82.32,963.8 84.4,963.44 86.48,963.05 88.56,962.64 90.64,962.2 92.72,961.74 94.8,961.25 96.88,960.73 98.95,960.18 101.03,959.59 103.11,958.98 105.19,958.33 107.27,957.64 109.35,956.92 111.43,956.16 113.5,955.35 115.58,954.51 117.66,953.62 119.74,952.69 121.82,951.71 123.9,950.69 125.98,949.62 128.06,948.5 130.13,947.34 132.21,946.12 134.29,944.86 136.37,943.55 138.45,942.18 140.53,940.77 142.61,939.31 144.69,937.81 146.76,936.25 148.84,934.66 150.92,933.02 153,931.34 155.08,929.62 157.16,927.87 159.24,926.09 161.32,924.27 163.4,922.43 165.47,920.57 167.55,918.69 169.63,916.8 171.71,914.89 173.79,912.98 175.87,911.07 177.95,909.16 180.03,907.26 182.1,905.37 184.18,903.49 186.26,901.63 188.34,899.8 190.42,897.99 192.5,896.21 194.58,894.47 196.65,892.76 198.73,891.09 200.81,889.46 202.89,887.87 204.97,886.33 207.05,884.83 209.13,883.38 211.21,881.98 213.29,880.63 215.36,879.33 217.44,878.08 219.52,876.87 221.6,875.72" fill="none" stroke="#86ec86" stroke-width="1.2" stroke-linejoin="round" stroke-linecap="round"/>
<polyline points="55.3,967.02 57.38,966.86 59.46,966.69 61.54,966.51 63.61,966.32 65.69,966.12 67.77,965.9 69.85,965.66 71.93,965.42 74.01,965.15 76.09,964.87 78.17,964.57 80.25,964.26 82.32,963.92 84.4,963.56 86.48,963.18 88.56,962.78 90.64,962.35 92.72,961.89 94.8,961.41 96.88,960.9 98.95,960.36 101.03,959.79 103.11,959.19 105.19,958.55 107.27,957.87 109.35,957.16 111.43,956.41 113.5,955.63 115.58,954.79 117.66,953.92 119.74,953.01 121.82,952.04 123.9,951.04 125.98,949.98 128.06,948.88 130.13,947.73 132.21,946.53 134.29,945.29 136.37,943.99 138.45,942.64 140.53,941.25 142.61,939.8 144.69,938.31 146.76,936.78 148.84,935.2 150.92,933.57 153,931.9 155.08,930.2 157.16,928.46 159.24,926.68 161.32,924.88 163.4,923.05 165.47,921.19 167.55,919.32 169.63,917.43 171.71,915.53 173.79,913.62 175.87,911.71 177.95,909.8 180.03,907.89 182.1,905.99 184.18,904.11 186.26,902.25 188.34,900.41 190.42,898.59 192.5,896.8 194.58,895.04 196.65,893.32 198.73,891.64 200.81,890 202.89,888.4 204.97,886.84 207.05,885.33 209.13,883.86 211.21,882.45 213.29,881.08 215.36,879.76 217.44,878.49 219.52,877.27 221.6,876.1" fill="none" stroke="#1c8c64" stroke-width="1.2" stroke-linejoin="round" stroke-linecap="round"/>
<polyline points="55.3,967.05 57.38,966.89 59.46,966.72 61.54,966.54 63.61,966.35 65.69,966.15 67.77,965.93 69.85,965.7 71.93,965.46 74.01,965.2 76.09,964.92 78.17,964.62 80.25,964.31 82.32,963.98 84.4,963.62 86.48,963.25 88.56,962.85 90.64,962.42 92.72,961.97 94.8,961.49 96.88,960.99 98.95,960.45 101.03,959.89 103.11,959.29 105.19,958.66 107.27,957.99 109.35,957.28 111.43,956.54 113.5,955.76 115.58,954.94 117.66,954.07 119.74,953.16 121.82,952.21 123.9,951.21 125.98,950.16 128.06,949.07 130.13,947.93 132.21,946.74 134.29,945.5 136.37,944.21 138.45,942.87 140.53,941.48 142.61,940.05 144.69,938.57 146.76,937.04 148.84,935.46 150.92,933.84 153,932.19 155.08,930.49 157.16,928.75 159.24,926.98 161.32,925.18 163.4,923.36 165.47,921.5 167.55,919.63 169.63,917.75 171.71,915.85 173.79,913.94 175.87,912.03 177.95,910.11 180.03,908.21 182.1,906.31 184.18,904.43 186.26,902.56 188.34,900.71 190.42,898.89 192.5,897.1 194.58,895.34 196.65,893.61 198.73,891.92 200.81,890.27 202.89,888.66 204.97,887.1 207.05,885.58 209.13,884.1 211.21,882.68 213.29,881.3 215.36,879.98 217.44,878.7 219.52,877.47 221.6,876.29" fill="none" stroke="#d6f5c8" stroke-width="1" stroke-linejoin="round" stroke-linecap="round"/>
<polyline points="55.3,966.91 57.38,966.74 59.46,966.56 61.54,966.37 63.61,966.17 65.69,965.96 67.77,965.73 69.85,965.48 71.93,965.22 74.01,964.95 76.09,964.65 78.17,964.34 80.25,964.01 82.32,963.66 84.4,963.28 86.48,962.89 88.56,962.46 90.64,962.02 92.72,961.54 94.8,961.04 96.88,960.51 98.95,959.95 101.03,959.35 103.11,958.72 105.19,958.06 107.27,957.36 109.35,956.62 111.43,955.84 113.5,955.02 115.58,954.16 117.66,953.25 119.74,952.3 121.82,951.31 123.9,950.27 125.98,949.18 128.06,948.04 130.13,946.86 132.21,945.62 134.29,944.34 136.37,943.01 138.45,941.62 140.53,940.19 142.61,938.71 144.69,937.19 146.76,935.62 148.84,934.01 150.92,932.35 153,930.66 155.08,928.93 157.16,927.16 159.24,925.36 161.32,923.54 163.4,921.69 165.47,919.82 167.55,917.93 169.63,916.03 171.71,914.13 173.79,912.22 175.87,910.3 177.95,908.4 180.03,906.5 182.1,904.61 184.18,902.74 186.26,900.89 188.34,899.07 190.42,897.27 192.5,895.51 194.58,893.78 196.65,892.08 198.73,890.43 200.81,888.82 202.89,887.25 204.97,885.72 207.05,884.25 209.13,882.82 211.21,881.44 213.29,880.1 215.36,878.82 217.44,877.59 219.52,876.4 221.6,875.27" fill="none" stroke="#14e014" stroke-width="2.1" stroke-linejoin="round" stroke-linecap="round"/>
<polyline points="55.3,966.59 57.38,966.4 59.46,966.21 61.54,965.99 63.61,965.77 65.69,965.52 67.77,965.27 69.85,965 71.93,964.7 74.01,964.4 76.09,964.07 78.17,963.72 80.25,963.35 82.32,962.95 84.4,962.54 86.48,962.09 88.56,961.62 90.64,961.13 92.72,960.6 94.8,960.04 96.88,959.45 98.95,958.83 101.03,958.17 103.11,957.47 105.19,956.74 107.27,955.97 109.35,955.16 111.43,954.3 113.5,953.41 115.58,952.46 117.66,951.48 119.74,950.44 121.82,949.36 123.9,948.23 125.98,947.06 128.06,945.83 130.13,944.55 132.21,943.23 134.29,941.85 136.37,940.43 138.45,938.96 140.53,937.44 142.61,935.88 144.69,934.28 146.76,932.63 148.84,930.94 150.92,929.21 153,927.45 155.08,925.66 157.16,923.84 159.24,922 161.32,920.13 163.4,918.25 165.47,916.35 167.55,914.44 169.63,912.53 171.71,910.62 173.79,908.71 175.87,906.81 177.95,904.92 180.03,903.05 182.1,901.2 184.18,899.37 186.26,897.57 188.34,895.8 190.42,894.06 192.5,892.36 194.58,890.7 196.65,889.08 198.73,887.5 200.81,885.97 202.89,884.49 204.97,883.05 207.05,881.66 209.13,880.32 211.21,879.03 213.29,877.79 215.36,876.6 217.44,875.45 219.52,874.36 221.6,873.31" fill="none" stroke="#8b0000" stroke-width="2.1" stroke-linejoin="round" stroke-linecap="round"/>
<line x1="55.3" y1="854.5" x2="55.3" y2="970.2" stroke="#000" stroke-width="1.3"/>
<line x1="53.1" y1="969.6" x2="55.3" y2="969.6" stroke="#000" stroke-width="1.1"/>
<text x="50.6" y="972.7" font-size="8.8" text-anchor="end" fill="#111">0</text>
<line x1="53.1" y1="946.7" x2="55.3" y2="946.7" stroke="#000" stroke-width="1.1"/>
<text x="50.6" y="949.8" font-size="8.8" text-anchor="end" fill="#111">20</text>
<line x1="53.1" y1="923.8" x2="55.3" y2="923.8" stroke="#000" stroke-width="1.1"/>
<text x="50.6" y="926.9" font-size="8.8" text-anchor="end" fill="#111">40</text>
<line x1="53.1" y1="900.9" x2="55.3" y2="900.9" stroke="#000" stroke-width="1.1"/>
<text x="50.6" y="904" font-size="8.8" text-anchor="end" fill="#111">60</text>
<line x1="53.1" y1="878" x2="55.3" y2="878" stroke="#000" stroke-width="1.1"/>
<text x="50.6" y="881.1" font-size="8.8" text-anchor="end" fill="#111">80</text>
<line x1="53.1" y1="855.1" x2="55.3" y2="855.1" stroke="#000" stroke-width="1.1"/>
<text x="50.6" y="858.2" font-size="8.8" text-anchor="end" fill="#111">100</text>
<line x1="54.7" y1="969.6" x2="229" y2="969.6" stroke="#000" stroke-width="1.3"/>
<line x1="55.3" y1="969.6" x2="55.3" y2="972" stroke="#000" stroke-width="1.1"/>
<text x="55.3" y="983.8" font-size="9.1" fill="#111" text-anchor="middle">10<tspan font-size="6.3" dy="-3.1">0</tspan></text>
<line x1="89.98" y1="969.6" x2="89.98" y2="972" stroke="#000" stroke-width="1.1"/>
<text x="89.98" y="983.8" font-size="9.1" fill="#111" text-anchor="middle">10<tspan font-size="6.3" dy="-3.1">0.5</tspan></text>
<line x1="124.66" y1="969.6" x2="124.66" y2="972" stroke="#000" stroke-width="1.1"/>
<text x="124.66" y="983.8" font-size="9.1" fill="#111" text-anchor="middle">10<tspan font-size="6.3" dy="-3.1">1</tspan></text>
<line x1="159.34" y1="969.6" x2="159.34" y2="972" stroke="#000" stroke-width="1.1"/>
<text x="159.34" y="983.8" font-size="9.1" fill="#111" text-anchor="middle">10<tspan font-size="6.3" dy="-3.1">1.5</tspan></text>
<line x1="194.02" y1="969.6" x2="194.02" y2="972" stroke="#000" stroke-width="1.1"/>
<text x="194.02" y="983.8" font-size="9.1" fill="#111" text-anchor="middle">10<tspan font-size="6.3" dy="-3.1">2</tspan></text>
<line x1="228.7" y1="969.6" x2="228.7" y2="972" stroke="#000" stroke-width="1.1"/>
<text x="228.7" y="983.8" font-size="9.1" fill="#111" text-anchor="middle">10<tspan font-size="6.3" dy="-3.1">2.5</tspan></text>
<text x="142.3" y="996.4" font-size="9.25" font-weight="bold" text-anchor="middle" fill="#000">Staurosporine [nM, 72h]</text>
<text x="19.4" y="915.4" font-size="9.05" font-weight="bold" text-anchor="middle" fill="#000" transform="rotate(-90 19.4 915.4)">relative cell death</text>
<text x="30" y="915.8" font-size="9.05" font-weight="bold" text-anchor="middle" fill="#000" transform="rotate(-90 30 915.8)">FSC/SSC [%]</text>
<line x1="239.7" y1="869.9" x2="251.2" y2="869.9" stroke="#cdf55a" stroke-width="1.6"/>
<text x="256.4" y="874.9" font-size="7.3" fill="#111">VEN<tspan font-size="6.35" dy="-2.9">sens 5</tspan></text>
<line x1="239.7" y1="879.08" x2="251.2" y2="879.08" stroke="#86ec86" stroke-width="1.6"/>
<text x="256.4" y="884.08" font-size="7.3" fill="#111">VEN<tspan font-size="6.35" dy="-2.9">sens 4</tspan></text>
<line x1="239.7" y1="888.26" x2="251.2" y2="888.26" stroke="#14e014" stroke-width="1.6"/>
<text x="256.4" y="893.26" font-size="7.3" fill="#111">VEN<tspan font-size="6.35" dy="-2.9">sens 3</tspan></text>
<line x1="239.7" y1="897.44" x2="251.2" y2="897.44" stroke="#6e9420" stroke-width="1.6"/>
<text x="256.4" y="902.44" font-size="7.3" fill="#111">VEN<tspan font-size="6.35" dy="-2.9">sens 2</tspan></text>
<line x1="239.7" y1="906.62" x2="251.2" y2="906.62" stroke="#1c8c64" stroke-width="1.6"/>
<text x="256.4" y="911.62" font-size="7.3" fill="#111">VEN<tspan font-size="6.35" dy="-2.9">sens 1</tspan></text>
<line x1="239.7" y1="915.8" x2="251.2" y2="915.8" stroke="#ffd27a" stroke-width="1.6"/>
<text x="256.4" y="920.8" font-size="7.3" fill="#111">VEN<tspan font-size="6.35" dy="-2.9">ins 1</tspan></text>
<line x1="239.7" y1="924.98" x2="251.2" y2="924.98" stroke="#ff8c00" stroke-width="1.6"/>
<text x="256.4" y="929.98" font-size="7.3" fill="#111">VEN<tspan font-size="6.35" dy="-2.9">ins 2</tspan></text>
<line x1="239.7" y1="934.16" x2="251.2" y2="934.16" stroke="#ff9090" stroke-width="1.6"/>
<text x="256.4" y="939.16" font-size="7.3" fill="#111">VEN<tspan font-size="6.35" dy="-2.9">ins 3</tspan></text>
<line x1="239.7" y1="943.34" x2="251.2" y2="943.34" stroke="#ff2a00" stroke-width="1.6"/>
<text x="256.4" y="948.34" font-size="7.3" fill="#111">VEN<tspan font-size="6.35" dy="-2.9">ins 4</tspan></text>
<line x1="239.7" y1="952.52" x2="251.2" y2="952.52" stroke="#8b0000" stroke-width="1.6"/>
<text x="256.4" y="957.52" font-size="7.3" fill="#111">VEN<tspan font-size="6.35" dy="-2.9">ins 5</tspan></text>
<line x1="353.7" y1="910.25" x2="532.3" y2="910.25" stroke="#222" stroke-width="1.5" stroke-dasharray="4.4,1.6"/>
<polyline points="353.7,969.6 355.94,969.6 358.17,969.6 360.41,969.6 362.64,969.6 364.88,969.6 367.12,969.6 369.35,969.6 371.59,969.6 373.83,969.6 376.06,969.6 378.3,969.6 380.53,969.6 382.77,969.6 385.01,969.6 387.24,969.6 389.48,969.6 391.72,969.6 393.95,969.59 396.19,969.59 398.43,969.59 400.66,969.59 402.9,969.59 405.13,969.59 407.37,969.59 409.61,969.59 411.84,969.58 414.08,969.58 416.31,969.58 418.55,969.57 420.79,969.57 423.02,969.57 425.26,969.56 427.5,969.55 429.73,969.55 431.97,969.54 434.21,969.53 436.44,969.52 438.68,969.51 440.91,969.49 443.15,969.47 445.39,969.46 447.62,969.43 449.86,969.41 452.1,969.38 454.33,969.34 456.57,969.3 458.8,969.26 461.04,969.2 463.28,969.14 465.51,969.07 467.75,968.99 469.99,968.9 472.22,968.79 474.46,968.67 476.69,968.52 478.93,968.36 481.17,968.17 483.4,967.95 485.64,967.7 487.88,967.41 490.11,967.08 492.35,966.7 494.58,966.26 496.82,965.76 499.06,965.19 501.29,964.54 503.53,963.79 505.76,962.95 508,961.98 510.24,960.89 512.47,959.65 514.71,958.26 516.95,956.7 519.18,954.95 521.42,953 523.65,950.83 525.89,948.44 528.13,945.82 530.36,942.97 532.6,939.88" fill="none" stroke="#ffd27a" stroke-width="1.6" stroke-linejoin="round" stroke-linecap="round"/>
<polyline points="353.7,969.6 355.94,969.6 358.17,969.6 360.41,969.6 362.64,969.6 364.88,969.6 367.12,969.6 369.35,969.6 371.59,969.6 373.83,969.6 376.06,969.6 378.3,969.6 380.53,969.6 382.77,969.6 385.01,969.6 387.24,969.6 389.48,969.6 391.72,969.6 393.95,969.6 396.19,969.59 398.43,969.59 400.66,969.59 402.9,969.59 405.13,969.59 407.37,969.59 409.61,969.59 411.84,969.59 414.08,969.58 416.31,969.58 418.55,969.58 420.79,969.57 423.02,969.57 425.26,969.56 427.5,969.56 429.73,969.55 431.97,969.55 434.21,969.54 436.44,969.53 438.68,969.52 440.91,969.5 443.15,969.49 445.39,969.47 447.62,969.45 449.86,969.43 452.1,969.4 454.33,969.37 456.57,969.33 458.8,969.29 461.04,969.25 463.28,969.19 465.51,969.13 467.75,969.06 469.99,968.97 472.22,968.88 474.46,968.76 476.69,968.64 478.93,968.49 481.17,968.32 483.4,968.12 485.64,967.9 487.88,967.64 490.11,967.34 492.35,967 494.58,966.6 496.82,966.15 499.06,965.64 501.29,965.05 503.53,964.37 505.76,963.6 508,962.73 510.24,961.74 512.47,960.61 514.71,959.34 516.95,957.91 519.18,956.3 521.42,954.5 523.65,952.5 525.89,950.28 528.13,947.84 530.36,945.17 532.6,942.25" fill="none" stroke="#8b0a0a" stroke-width="1.8" stroke-linejoin="round" stroke-linecap="round"/>
<polyline points="353.7,969.6 355.94,969.6 358.17,969.6 360.41,969.6 362.64,969.6 364.88,969.6 367.12,969.6 369.35,969.6 371.59,969.6 373.83,969.6 376.06,969.6 378.3,969.6 380.53,969.6 382.77,969.6 385.01,969.6 387.24,969.6 389.48,969.6 391.72,969.6 393.95,969.6 396.19,969.6 398.43,969.6 400.66,969.59 402.9,969.59 405.13,969.59 407.37,969.59 409.61,969.59 411.84,969.59 414.08,969.59 416.31,969.59 418.55,969.58 420.79,969.58 423.02,969.58 425.26,969.57 427.5,969.57 429.73,969.56 431.97,969.56 434.21,969.55 436.44,969.55 438.68,969.54 440.91,969.53 443.15,969.52 445.39,969.5 447.62,969.49 449.86,969.47 452.1,969.45 454.33,969.43 456.57,969.4 458.8,969.37 461.04,969.34 463.28,969.3 465.51,969.25 467.75,969.19 469.99,969.13 472.22,969.06 474.46,968.98 476.69,968.88 478.93,968.77 481.17,968.64 483.4,968.49 485.64,968.33 487.88,968.13 490.11,967.91 492.35,967.65 494.58,967.35 496.82,967.01 499.06,966.62 501.29,966.17 503.53,965.66 505.76,965.07 508,964.4 510.24,963.64 512.47,962.77 514.71,961.78 516.95,960.67 519.18,959.4 521.42,957.98 523.65,956.38 525.89,954.59 528.13,952.6 530.36,950.39 532.6,947.96" fill="none" stroke="#ff3a1a" stroke-width="1.8" stroke-linejoin="round" stroke-linecap="round"/>
<polyline points="353.7,969.6 355.94,969.6 358.17,969.6 360.41,969.6 362.64,969.6 364.88,969.6 367.12,969.6 369.35,969.6 371.59,969.6 373.83,969.6 376.06,969.6 378.3,969.6 380.53,969.6 382.77,969.6 385.01,969.6 387.24,969.6 389.48,969.59 391.72,969.59 393.95,969.59 396.19,969.59 398.43,969.59 400.66,969.59 402.9,969.59 405.13,969.58 407.37,969.58 409.61,969.58 411.84,969.58 414.08,969.57 416.31,969.57 418.55,969.56 420.79,969.56 423.02,969.55 425.26,969.55 427.5,969.54 429.73,969.53 431.97,969.52 434.21,969.5 436.44,969.49 438.68,969.47 440.91,969.45 443.15,969.43 445.39,969.4 447.62,969.37 449.86,969.33 452.1,969.29 454.33,969.24 456.57,969.19 458.8,969.13 461.04,969.05 463.28,968.97 465.51,968.87 467.75,968.76 469.99,968.63 472.22,968.48 474.46,968.31 476.69,968.11 478.93,967.89 481.17,967.63 483.4,967.33 485.64,966.98 487.88,966.59 490.11,966.14 492.35,965.62 494.58,965.03 496.82,964.35 499.06,963.58 501.29,962.7 503.53,961.7 505.76,960.57 508,959.3 510.24,957.86 512.47,956.25 514.71,954.44 516.95,952.44 519.18,950.21 521.42,947.76 523.65,945.08 525.89,942.16 528.13,939.01 530.36,935.62 532.6,932.03" fill="none" stroke="#ff8c8c" stroke-width="1.8" stroke-linejoin="round" stroke-linecap="round"/>
<polyline points="353.7,969.6 355.94,969.6 358.17,969.6 360.41,969.6 362.64,969.6 364.88,969.6 367.12,969.6 369.35,969.6 371.59,969.6 373.83,969.6 376.06,969.6 378.3,969.6 380.53,969.6 382.77,969.6 385.01,969.6 387.24,969.59 389.48,969.59 391.72,969.59 393.95,969.59 396.19,969.59 398.43,969.59 400.66,969.59 402.9,969.59 405.13,969.58 407.37,969.58 409.61,969.58 411.84,969.57 414.08,969.57 416.31,969.57 418.55,969.56 420.79,969.56 423.02,969.55 425.26,969.54 427.5,969.53 429.73,969.52 431.97,969.51 434.21,969.49 436.44,969.48 438.68,969.46 440.91,969.44 443.15,969.41 445.39,969.38 447.62,969.35 449.86,969.31 452.1,969.27 454.33,969.22 456.57,969.16 458.8,969.09 461.04,969.01 463.28,968.92 465.51,968.81 467.75,968.69 469.99,968.55 472.22,968.39 474.46,968.21 476.69,968 478.93,967.75 481.17,967.47 483.4,967.15 485.64,966.78 487.88,966.35 490.11,965.87 492.35,965.31 494.58,964.67 496.82,963.95 499.06,963.12 501.29,962.18 503.53,961.11 505.76,959.9 508,958.54 510.24,957.01 512.47,955.3 514.71,953.39 516.95,951.27 519.18,948.92 521.42,946.35 523.65,943.54 525.89,940.49 528.13,937.21 530.36,933.71 532.6,930.01" fill="none" stroke="#ff9a2a" stroke-width="1.8" stroke-linejoin="round" stroke-linecap="round"/>
<polyline points="353.7,968.48 355.94,968.3 358.17,968.1 360.41,967.88 362.64,967.61 364.88,967.31 367.12,966.97 369.35,966.57 371.59,966.11 373.83,965.59 376.06,965 378.3,964.32 380.53,963.54 382.77,962.66 385.01,961.65 387.24,960.52 389.48,959.23 391.72,957.79 393.95,956.17 396.19,954.36 398.43,952.34 400.66,950.11 402.9,947.65 405.13,944.95 407.37,942.02 409.61,938.86 411.84,935.46 414.08,931.86 416.31,928.06 418.55,924.09 420.79,919.98 423.02,915.78 425.26,911.52 427.5,907.24 429.73,903 431.97,898.83 434.21,894.77 436.44,890.85 438.68,887.12 440.91,883.59 443.15,880.28 445.39,877.2 447.62,874.35 449.86,871.74 452.1,869.36 454.33,867.21 456.57,865.27 458.8,863.53 461.04,861.97 463.28,860.59 465.51,859.36 467.75,858.27 469.99,857.31 472.22,856.47 474.46,855.73 476.69,855.08 478.93,854.51 481.17,854.01 483.4,853.58 485.64,853.2 487.88,852.87 490.11,852.59 492.35,852.34 494.58,852.12 496.82,851.93 499.06,851.77 501.29,851.63 503.53,851.5 505.76,851.4 508,851.3 510.24,851.22 512.47,851.15 514.71,851.09 516.95,851.04 519.18,850.99 521.42,850.96 523.65,850.92 525.89,850.89 528.13,850.87 530.36,850.84 532.6,850.82" fill="none" stroke="#2f9a1e" stroke-width="1.9" stroke-linejoin="round" stroke-linecap="round"/>
<line x1="353.7" y1="850.1" x2="353.7" y2="970.2" stroke="#000" stroke-width="1.3"/>
<line x1="351.3" y1="969.6" x2="353.7" y2="969.6" stroke="#000" stroke-width="1.1"/>
<text x="349" y="972.8" font-size="9.4" text-anchor="end" fill="#111">0</text>
<line x1="351.3" y1="945.82" x2="353.7" y2="945.82" stroke="#000" stroke-width="1.1"/>
<text x="349" y="949.02" font-size="9.4" text-anchor="end" fill="#111">20</text>
<line x1="351.3" y1="922.04" x2="353.7" y2="922.04" stroke="#000" stroke-width="1.1"/>
<text x="349" y="925.24" font-size="9.4" text-anchor="end" fill="#111">40</text>
<line x1="351.3" y1="898.26" x2="353.7" y2="898.26" stroke="#000" stroke-width="1.1"/>
<text x="349" y="901.46" font-size="9.4" text-anchor="end" fill="#111">60</text>
<line x1="351.3" y1="874.48" x2="353.7" y2="874.48" stroke="#000" stroke-width="1.1"/>
<text x="349" y="877.68" font-size="9.4" text-anchor="end" fill="#111">80</text>
<line x1="351.3" y1="850.7" x2="353.7" y2="850.7" stroke="#000" stroke-width="1.1"/>
<text x="349" y="853.9" font-size="9.4" text-anchor="end" fill="#111">100</text>
<line x1="353.1" y1="969.6" x2="532.9" y2="969.6" stroke="#000" stroke-width="1.3"/>
<line x1="353.7" y1="969.6" x2="353.7" y2="972" stroke="#000" stroke-width="1.1"/>
<text x="353.7" y="983.5" font-size="9.2" fill="#111" text-anchor="middle">10<tspan font-size="6.3" dy="-3">-1</tspan></text>
<line x1="389.48" y1="969.6" x2="389.48" y2="972" stroke="#000" stroke-width="1.1"/>
<text x="389.48" y="983.5" font-size="9.2" fill="#111" text-anchor="middle">10<tspan font-size="6.3" dy="-3">0</tspan></text>
<line x1="425.26" y1="969.6" x2="425.26" y2="972" stroke="#000" stroke-width="1.1"/>
<text x="425.26" y="983.5" font-size="9.2" fill="#111" text-anchor="middle">10<tspan font-size="6.3" dy="-3">1</tspan></text>
<line x1="461.04" y1="969.6" x2="461.04" y2="972" stroke="#000" stroke-width="1.1"/>
<text x="461.04" y="983.5" font-size="9.2" fill="#111" text-anchor="middle">10<tspan font-size="6.3" dy="-3">2</tspan></text>
<line x1="496.82" y1="969.6" x2="496.82" y2="972" stroke="#000" stroke-width="1.1"/>
<text x="496.82" y="983.5" font-size="9.2" fill="#111" text-anchor="middle">10<tspan font-size="6.3" dy="-3">3</tspan></text>
<line x1="532.6" y1="969.6" x2="532.6" y2="972" stroke="#000" stroke-width="1.1"/>
<text x="532.6" y="983.5" font-size="9.2" fill="#111" text-anchor="middle">10<tspan font-size="6.3" dy="-3">4</tspan></text>
<text x="443.3" y="997.4" font-size="10.3" font-weight="bold" text-anchor="middle" fill="#000">venetoclax [nM, 72h]</text>
<text x="328.6" y="913" font-size="9.45" font-weight="bold" text-anchor="middle" fill="#000" transform="rotate(-90 328.6 913)">cell death FSC/SSC [%]</text>
<text x="362.5" y="853.9" font-size="11.2" font-weight="bold" text-anchor="start" fill="#000">drug holiday</text>
<line x1="548.2" y1="873.5" x2="557.9" y2="873.5" stroke="#2f9a1e" stroke-width="1.3"/>
<text x="562.3" y="878.2" font-size="6.8" fill="#111">VEN<tspan font-size="5.5" dy="-2.6">sens&#160;</tspan><tspan font-size="7.2" dy="2.6">dh-1</tspan></text>
<line x1="548.2" y1="881.44" x2="557.9" y2="881.44" stroke="#ffd27a" stroke-width="1.3"/>
<text x="562.3" y="886.14" font-size="6.8" fill="#111">VEN<tspan font-size="5.5" dy="-2.6">ins&#160;</tspan><tspan font-size="7.2" dy="2.6">dh-1</tspan></text>
<line x1="548.2" y1="889.38" x2="557.9" y2="889.38" stroke="#ff9a2a" stroke-width="1.3"/>
<text x="562.3" y="894.08" font-size="6.8" fill="#111">VEN<tspan font-size="5.5" dy="-2.6">ins&#160;</tspan><tspan font-size="7.2" dy="2.6">dh-2</tspan></text>
<line x1="548.2" y1="897.32" x2="557.9" y2="897.32" stroke="#ff8c8c" stroke-width="1.3"/>
<text x="562.3" y="902.02" font-size="6.8" fill="#111">VEN<tspan font-size="5.5" dy="-2.6">ins&#160;</tspan><tspan font-size="7.2" dy="2.6">dh-3</tspan></text>
<line x1="548.2" y1="905.26" x2="557.9" y2="905.26" stroke="#ff3a1a" stroke-width="1.3"/>
<text x="562.3" y="909.96" font-size="6.8" fill="#111">VEN<tspan font-size="5.5" dy="-2.6">ins&#160;</tspan><tspan font-size="7.2" dy="2.6">dh-4</tspan></text>
<line x1="548.2" y1="913.2" x2="557.9" y2="913.2" stroke="#8b0a0a" stroke-width="1.3"/>
<text x="562.3" y="917.9" font-size="6.8" fill="#111">VEN<tspan font-size="5.5" dy="-2.6">ins&#160;</tspan><tspan font-size="7.2" dy="2.6">dh-5</tspan></text>
</svg>
</body></html>
